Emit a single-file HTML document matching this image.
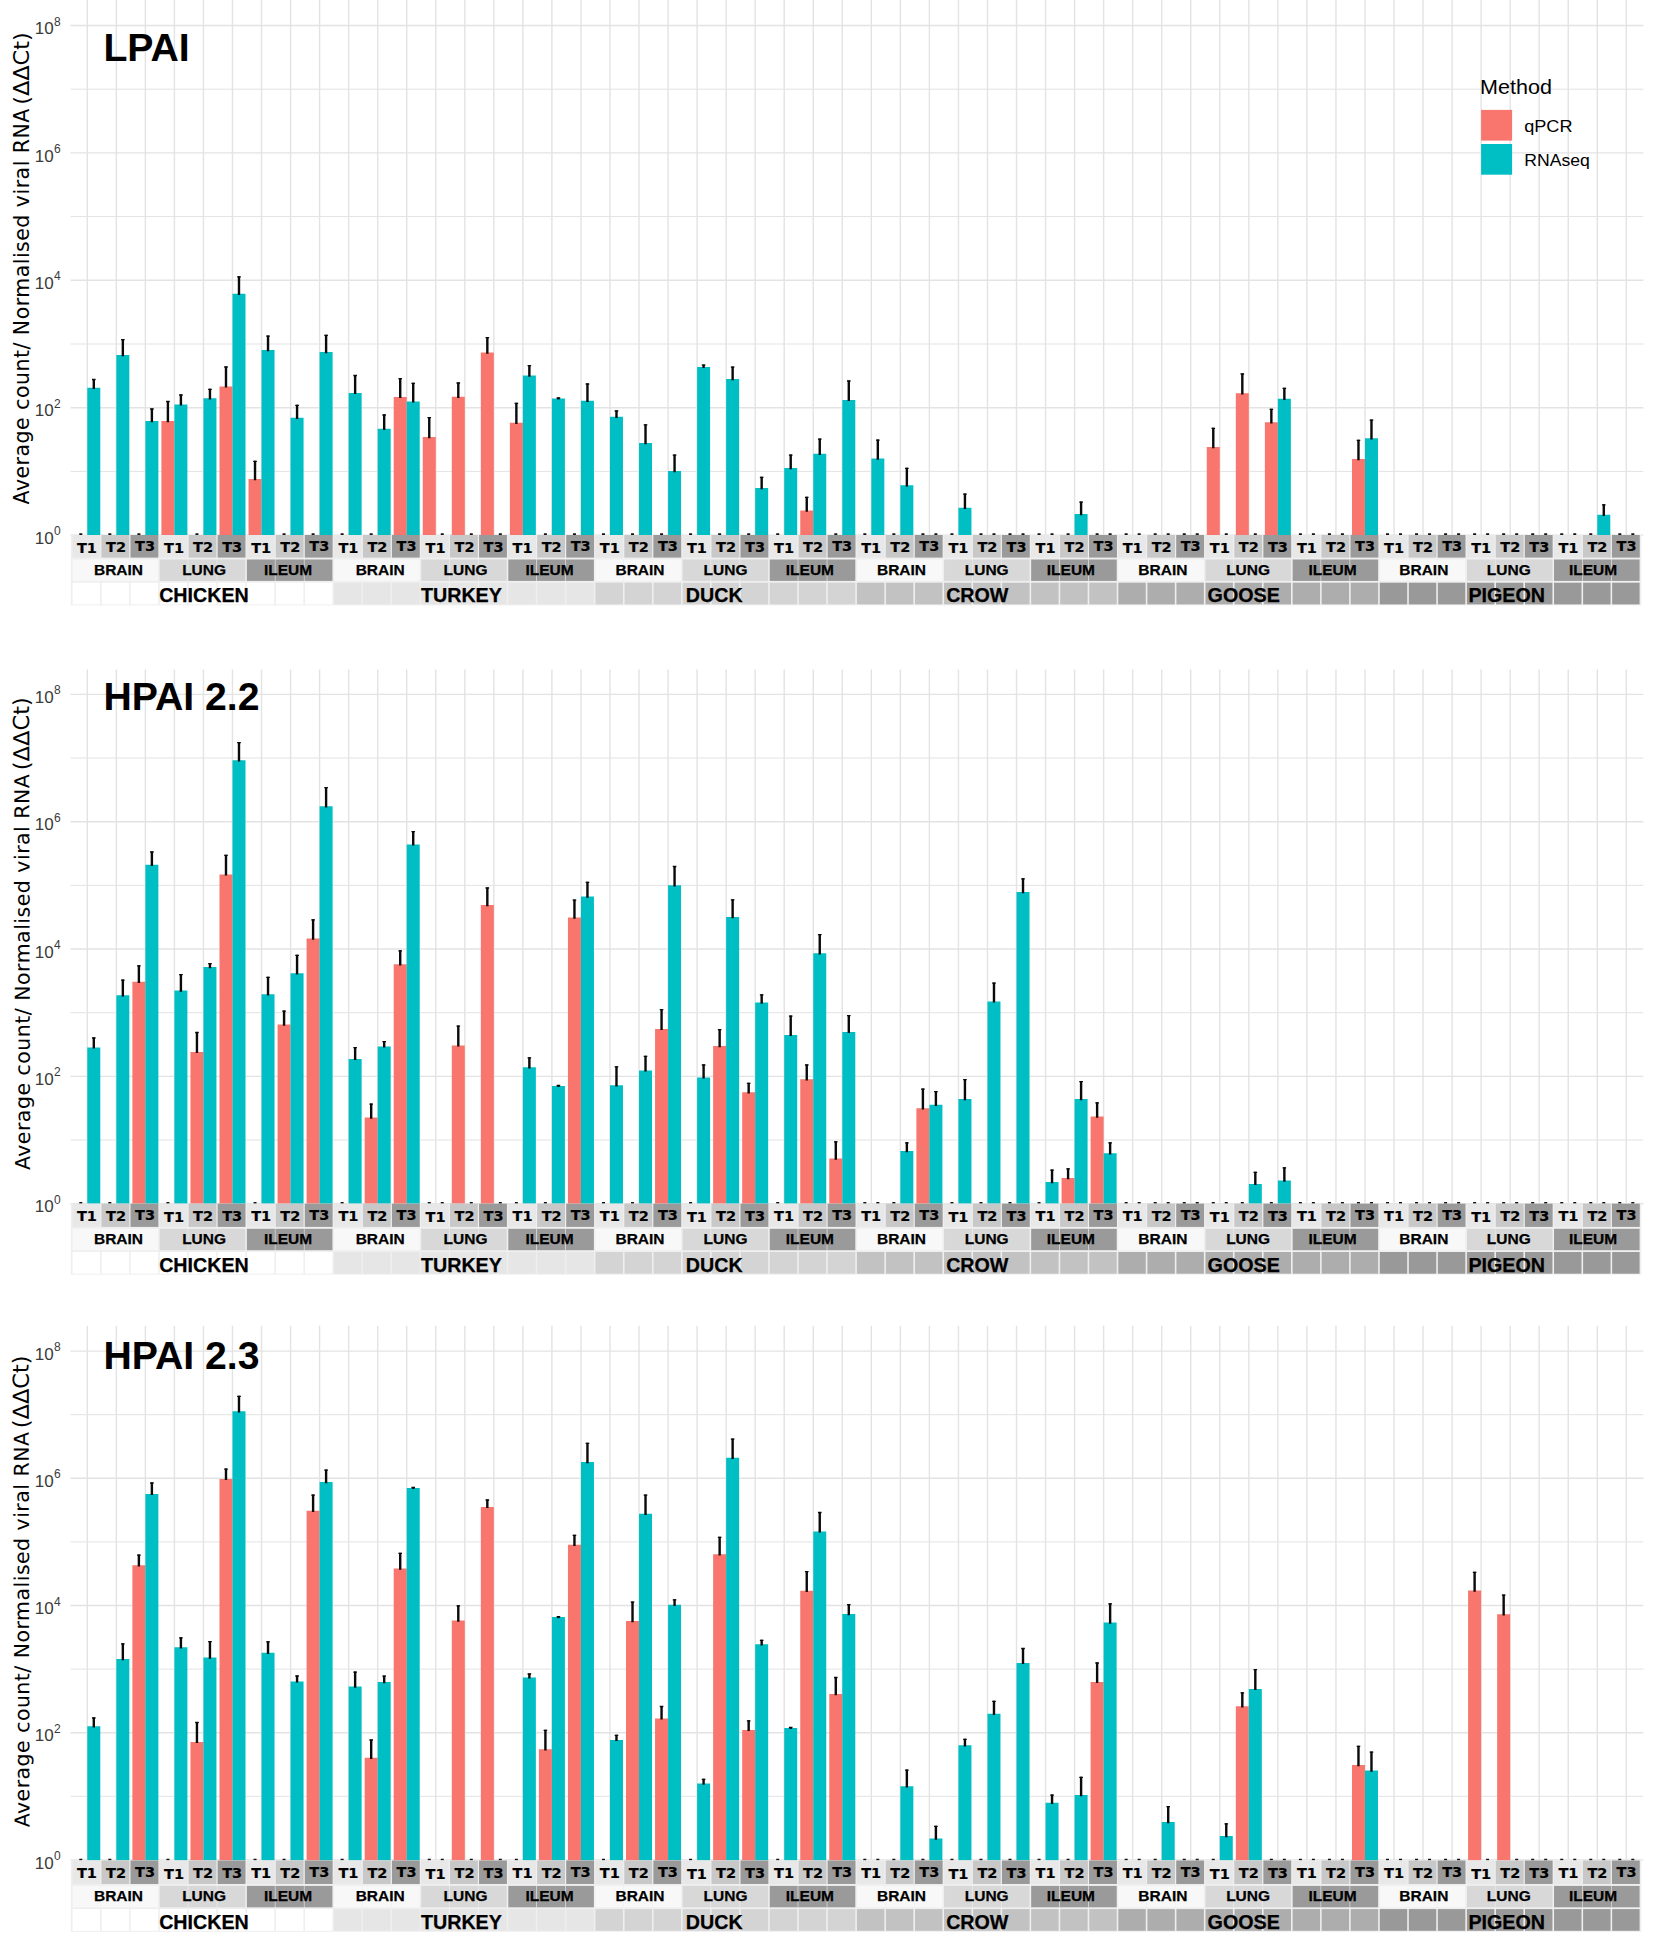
<!DOCTYPE html>
<html lang="en"><head><meta charset="utf-8"><title>Viral RNA: RNAseq vs qPCR</title>
<style>html,body{margin:0;padding:0;background:#fff}svg{display:block}</style></head>
<body>
<svg width="1654" height="1944" viewBox="0 0 1654 1944">
<rect width="1654" height="1944" fill="#fff"/>
<g id="panel0">
<path d="M70.5 471.40H1643.3M70.5 344.00H1643.3M70.5 216.60H1643.3M70.5 89.20H1643.3" stroke="#e3e3e3" stroke-width="1.0" fill="none"/>
<path d="M87.30 0.0V535.1M116.34 0.0V535.1M145.38 0.0V535.1M174.41 0.0V535.1M203.45 0.0V535.1M232.49 0.0V535.1M261.53 0.0V535.1M290.57 0.0V535.1M319.60 0.0V535.1M348.64 0.0V535.1M377.68 0.0V535.1M406.72 0.0V535.1M435.76 0.0V535.1M464.79 0.0V535.1M493.83 0.0V535.1M522.87 0.0V535.1M551.91 0.0V535.1M580.95 0.0V535.1M609.98 0.0V535.1M639.02 0.0V535.1M668.06 0.0V535.1M697.10 0.0V535.1M726.14 0.0V535.1M755.17 0.0V535.1M784.21 0.0V535.1M813.25 0.0V535.1M842.29 0.0V535.1M871.33 0.0V535.1M900.36 0.0V535.1M929.40 0.0V535.1M958.44 0.0V535.1M987.48 0.0V535.1M1016.52 0.0V535.1M1045.55 0.0V535.1M1074.59 0.0V535.1M1103.63 0.0V535.1M1132.67 0.0V535.1M1161.71 0.0V535.1M1190.74 0.0V535.1M1219.78 0.0V535.1M1248.82 0.0V535.1M1277.86 0.0V535.1M1306.90 0.0V535.1M1335.93 0.0V535.1M1364.97 0.0V535.1M1394.01 0.0V535.1M1423.05 0.0V535.1M1452.09 0.0V535.1M1481.12 0.0V535.1M1510.16 0.0V535.1M1539.20 0.0V535.1M1568.24 0.0V535.1M1597.28 0.0V535.1M1626.31 0.0V535.1M70.5 535.10H1643.3M70.5 407.70H1643.3M70.5 280.30H1643.3M70.5 152.90H1643.3M70.5 25.50H1643.3" stroke="#e3e3e3" stroke-width="1.4" fill="none"/>
<path d="M161.41 421.0h13.0V535.0h-13.0zM219.49 386.4h13.0V535.0h-13.0zM248.53 479.0h13.0V535.0h-13.0zM393.72 396.9h13.0V535.0h-13.0zM422.76 437.0h13.0V535.0h-13.0zM451.79 396.7h13.0V535.0h-13.0zM480.83 352.6h13.0V535.0h-13.0zM509.87 422.7h13.0V535.0h-13.0zM800.25 510.6h13.0V535.0h-13.0zM1206.78 447.0h13.0V535.0h-13.0zM1235.82 393.2h13.0V535.0h-13.0zM1264.86 422.2h13.0V535.0h-13.0zM1351.97 459.0h13.0V535.0h-13.0z" fill="#F8766D"/>
<path d="M87.30 387.7h13.0V535.0h-13.0zM116.34 355.1h13.0V535.0h-13.0zM145.38 421.0h13.0V535.0h-13.0zM174.41 404.4h13.0V535.0h-13.0zM203.45 398.2h13.0V535.0h-13.0zM232.49 293.8h13.0V535.0h-13.0zM261.53 350.1h13.0V535.0h-13.0zM290.57 417.7h13.0V535.0h-13.0zM319.60 352.1h13.0V535.0h-13.0zM348.64 392.9h13.0V535.0h-13.0zM377.68 428.7h13.0V535.0h-13.0zM406.72 401.4h13.0V535.0h-13.0zM522.87 375.6h13.0V535.0h-13.0zM551.91 398.4h13.0V535.0h-13.0zM580.95 400.7h13.0V535.0h-13.0zM609.98 416.7h13.0V535.0h-13.0zM639.02 443.0h13.0V535.0h-13.0zM668.06 471.0h13.0V535.0h-13.0zM697.10 366.9h13.0V535.0h-13.0zM726.14 379.1h13.0V535.0h-13.0zM755.17 488.0h13.0V535.0h-13.0zM784.21 468.0h13.0V535.0h-13.0zM813.25 453.7h13.0V535.0h-13.0zM842.29 399.9h13.0V535.0h-13.0zM871.33 458.5h13.0V535.0h-13.0zM900.36 485.3h13.0V535.0h-13.0zM958.44 507.8h13.0V535.0h-13.0zM1074.59 514.1h13.0V535.0h-13.0zM1277.86 398.7h13.0V535.0h-13.0zM1364.97 438.2h13.0V535.0h-13.0zM1597.28 514.8h13.0V535.0h-13.0z" fill="#00BFC4"/>
<path d="M93.80 388.9V378.9M122.84 356.3V339.1M151.88 422.2V408.4M167.91 422.2V400.9M180.91 405.6V394.4M209.95 399.4V388.7M225.99 387.6V366.4M238.99 295.0V276.3M255.03 480.2V460.8M268.03 351.3V335.6M297.07 418.9V404.7M326.10 353.3V334.8M355.14 394.1V374.9M384.18 429.9V414.4M400.22 398.1V378.1M413.22 402.6V382.7M429.26 438.2V417.0M458.29 397.9V382.4M487.33 353.8V337.1M516.37 423.9V402.7M529.37 376.8V365.1M558.41 399.6V397.4M587.45 401.9V383.4M616.48 417.9V410.4M645.52 444.2V424.2M674.56 472.2V454.5M703.60 368.1V364.6M732.64 380.3V366.6M761.67 489.2V476.8M790.71 469.2V454.5M806.75 511.8V496.8M819.75 454.9V438.5M848.79 401.1V380.4M877.83 459.7V439.5M906.86 486.5V467.8M964.94 509.0V493.5M1081.09 515.3V501.5M1213.28 448.2V427.7M1242.32 394.4V373.4M1271.36 423.4V408.7M1284.36 399.9V387.7M1358.47 460.2V439.7M1371.47 439.4V419.5M1603.78 516.0V504.3" stroke="#0a0a0a" stroke-width="2.4" fill="none"/>
<path d="M92.00 379.5h3.6M121.04 339.7h3.6M150.08 409.0h3.6M166.11 401.5h3.6M179.11 395.0h3.6M208.15 389.3h3.6M224.19 367.0h3.6M237.19 276.9h3.6M253.23 461.4h3.6M266.23 336.2h3.6M295.27 405.3h3.6M324.30 335.4h3.6M353.34 375.5h3.6M382.38 415.0h3.6M398.42 378.7h3.6M411.42 383.3h3.6M427.46 417.6h3.6M456.49 383.0h3.6M485.53 337.7h3.6M514.57 403.3h3.6M527.57 365.7h3.6M556.61 398.0h3.6M585.65 384.0h3.6M614.68 411.0h3.6M643.72 424.8h3.6M672.76 455.1h3.6M701.80 365.2h3.6M730.84 367.2h3.6M759.87 477.4h3.6M788.91 455.1h3.6M804.95 497.4h3.6M817.95 439.1h3.6M846.99 381.0h3.6M876.03 440.1h3.6M905.06 468.4h3.6M963.14 494.1h3.6M1079.29 502.1h3.6M1211.48 428.3h3.6M1240.52 374.0h3.6M1269.56 409.3h3.6M1282.56 388.3h3.6M1356.67 440.3h3.6M1369.67 420.1h3.6M1601.98 504.9h3.6" stroke="#0a0a0a" stroke-width="1.3" fill="none"/>
<path d="M79.30 534.1h3M108.34 534.1h3M137.38 534.1h3M195.45 534.1h3M282.57 534.1h3M311.60 534.1h3M340.64 534.1h3M369.68 534.1h3M440.76 534.1h3M469.79 534.1h3M498.83 534.1h3M543.91 534.1h3M572.95 534.1h3M601.98 534.1h3M631.02 534.1h3M660.06 534.1h3M689.10 534.1h3M718.14 534.1h3M747.17 534.1h3M776.21 534.1h3M834.29 534.1h3M863.33 534.1h3M892.36 534.1h3M921.40 534.1h3M934.40 534.1h3M950.44 534.1h3M979.48 534.1h3M992.48 534.1h3M1008.52 534.1h3M1021.52 534.1h3M1037.55 534.1h3M1050.55 534.1h3M1066.59 534.1h3M1095.63 534.1h3M1108.63 534.1h3M1124.67 534.1h3M1137.67 534.1h3M1153.71 534.1h3M1166.71 534.1h3M1182.74 534.1h3M1195.74 534.1h3M1224.78 534.1h3M1253.82 534.1h3M1298.90 534.1h3M1311.90 534.1h3M1327.93 534.1h3M1340.93 534.1h3M1386.01 534.1h3M1399.01 534.1h3M1415.05 534.1h3M1428.05 534.1h3M1444.09 534.1h3M1457.09 534.1h3M1473.12 534.1h3M1486.12 534.1h3M1502.16 534.1h3M1515.16 534.1h3M1531.20 534.1h3M1544.20 534.1h3M1560.24 534.1h3M1573.24 534.1h3M1589.28 534.1h3M1618.31 534.1h3M1631.31 534.1h3" stroke="#111" stroke-width="1.8" fill="none"/>
<rect x="70.80" y="535.0" width="1570.59" height="70.4" fill="#efefef"/>
<rect x="72.40" y="535.0" width="27.85" height="22.6" fill="#e8e8e8"/>
<rect x="72.60" y="559.5" width="27.95" height="21.4" fill="#f8f8f8"/>
<rect x="72.60" y="582.7" width="27.45" height="21.7" fill="#ffffff"/>
<rect x="101.45" y="535.0" width="27.85" height="22.6" fill="#c8c8c8"/>
<rect x="101.15" y="559.5" width="28.45" height="21.4" fill="#f8f8f8"/>
<rect x="101.65" y="582.7" width="27.45" height="21.7" fill="#ffffff"/>
<rect x="130.50" y="535.0" width="27.85" height="22.6" fill="#9a9a9a"/>
<rect x="130.20" y="559.5" width="27.95" height="21.4" fill="#f8f8f8"/>
<rect x="130.70" y="582.7" width="27.45" height="21.7" fill="#ffffff"/>
<rect x="159.54" y="535.0" width="27.85" height="22.6" fill="#e8e8e8"/>
<rect x="159.74" y="559.5" width="27.95" height="21.4" fill="#d8d8d8"/>
<rect x="159.74" y="582.7" width="27.45" height="21.7" fill="#ffffff"/>
<rect x="188.59" y="535.0" width="27.85" height="22.6" fill="#c8c8c8"/>
<rect x="188.29" y="559.5" width="28.45" height="21.4" fill="#d8d8d8"/>
<rect x="188.79" y="582.7" width="27.45" height="21.7" fill="#ffffff"/>
<rect x="217.64" y="535.0" width="27.85" height="22.6" fill="#9a9a9a"/>
<rect x="217.34" y="559.5" width="27.95" height="21.4" fill="#d8d8d8"/>
<rect x="217.84" y="582.7" width="27.45" height="21.7" fill="#ffffff"/>
<rect x="246.69" y="535.0" width="27.85" height="22.6" fill="#e8e8e8"/>
<rect x="246.89" y="559.5" width="27.95" height="21.4" fill="#9a9a9a"/>
<rect x="246.89" y="582.7" width="27.45" height="21.7" fill="#ffffff"/>
<rect x="275.74" y="535.0" width="27.85" height="22.6" fill="#c8c8c8"/>
<rect x="275.44" y="559.5" width="28.45" height="21.4" fill="#9a9a9a"/>
<rect x="275.94" y="582.7" width="27.45" height="21.7" fill="#ffffff"/>
<rect x="304.78" y="535.0" width="27.85" height="22.6" fill="#9a9a9a"/>
<rect x="304.48" y="559.5" width="27.95" height="21.4" fill="#9a9a9a"/>
<rect x="304.98" y="582.7" width="27.45" height="21.7" fill="#ffffff"/>
<rect x="333.83" y="535.0" width="27.85" height="22.6" fill="#e8e8e8"/>
<rect x="334.03" y="559.5" width="27.95" height="21.4" fill="#f8f8f8"/>
<rect x="334.03" y="582.7" width="27.45" height="21.7" fill="#e6e6e6"/>
<rect x="362.88" y="535.0" width="27.85" height="22.6" fill="#c8c8c8"/>
<rect x="362.58" y="559.5" width="28.45" height="21.4" fill="#f8f8f8"/>
<rect x="363.08" y="582.7" width="27.45" height="21.7" fill="#e6e6e6"/>
<rect x="391.93" y="535.0" width="27.85" height="22.6" fill="#9a9a9a"/>
<rect x="391.63" y="559.5" width="27.95" height="21.4" fill="#f8f8f8"/>
<rect x="392.13" y="582.7" width="27.45" height="21.7" fill="#e6e6e6"/>
<rect x="420.98" y="535.0" width="27.85" height="22.6" fill="#e8e8e8"/>
<rect x="421.18" y="559.5" width="27.95" height="21.4" fill="#d8d8d8"/>
<rect x="421.18" y="582.7" width="27.45" height="21.7" fill="#e6e6e6"/>
<rect x="450.02" y="535.0" width="27.85" height="22.6" fill="#c8c8c8"/>
<rect x="449.72" y="559.5" width="28.45" height="21.4" fill="#d8d8d8"/>
<rect x="450.22" y="582.7" width="27.45" height="21.7" fill="#e6e6e6"/>
<rect x="479.07" y="535.0" width="27.85" height="22.6" fill="#9a9a9a"/>
<rect x="478.77" y="559.5" width="27.95" height="21.4" fill="#d8d8d8"/>
<rect x="479.27" y="582.7" width="27.45" height="21.7" fill="#e6e6e6"/>
<rect x="508.12" y="535.0" width="27.85" height="22.6" fill="#e8e8e8"/>
<rect x="508.32" y="559.5" width="27.95" height="21.4" fill="#9a9a9a"/>
<rect x="508.32" y="582.7" width="27.45" height="21.7" fill="#e6e6e6"/>
<rect x="537.17" y="535.0" width="27.85" height="22.6" fill="#c8c8c8"/>
<rect x="536.87" y="559.5" width="28.45" height="21.4" fill="#9a9a9a"/>
<rect x="537.37" y="582.7" width="27.45" height="21.7" fill="#e6e6e6"/>
<rect x="566.22" y="535.0" width="27.85" height="22.6" fill="#9a9a9a"/>
<rect x="565.92" y="559.5" width="27.95" height="21.4" fill="#9a9a9a"/>
<rect x="566.42" y="582.7" width="27.45" height="21.7" fill="#e6e6e6"/>
<rect x="595.26" y="535.0" width="27.85" height="22.6" fill="#e8e8e8"/>
<rect x="595.46" y="559.5" width="27.95" height="21.4" fill="#f8f8f8"/>
<rect x="595.46" y="582.7" width="27.45" height="21.7" fill="#d4d4d4"/>
<rect x="624.31" y="535.0" width="27.85" height="22.6" fill="#c8c8c8"/>
<rect x="624.01" y="559.5" width="28.45" height="21.4" fill="#f8f8f8"/>
<rect x="624.51" y="582.7" width="27.45" height="21.7" fill="#d4d4d4"/>
<rect x="653.36" y="535.0" width="27.85" height="22.6" fill="#9a9a9a"/>
<rect x="653.06" y="559.5" width="27.95" height="21.4" fill="#f8f8f8"/>
<rect x="653.56" y="582.7" width="27.45" height="21.7" fill="#d4d4d4"/>
<rect x="682.41" y="535.0" width="27.85" height="22.6" fill="#e8e8e8"/>
<rect x="682.61" y="559.5" width="27.95" height="21.4" fill="#d8d8d8"/>
<rect x="682.61" y="582.7" width="27.45" height="21.7" fill="#d4d4d4"/>
<rect x="711.46" y="535.0" width="27.85" height="22.6" fill="#c8c8c8"/>
<rect x="711.16" y="559.5" width="28.45" height="21.4" fill="#d8d8d8"/>
<rect x="711.66" y="582.7" width="27.45" height="21.7" fill="#d4d4d4"/>
<rect x="740.50" y="535.0" width="27.85" height="22.6" fill="#9a9a9a"/>
<rect x="740.20" y="559.5" width="27.95" height="21.4" fill="#d8d8d8"/>
<rect x="740.70" y="582.7" width="27.45" height="21.7" fill="#d4d4d4"/>
<rect x="769.55" y="535.0" width="27.85" height="22.6" fill="#e8e8e8"/>
<rect x="769.75" y="559.5" width="27.95" height="21.4" fill="#9a9a9a"/>
<rect x="769.75" y="582.7" width="27.45" height="21.7" fill="#d4d4d4"/>
<rect x="798.60" y="535.0" width="27.85" height="22.6" fill="#c8c8c8"/>
<rect x="798.30" y="559.5" width="28.45" height="21.4" fill="#9a9a9a"/>
<rect x="798.80" y="582.7" width="27.45" height="21.7" fill="#d4d4d4"/>
<rect x="827.65" y="535.0" width="27.85" height="22.6" fill="#9a9a9a"/>
<rect x="827.35" y="559.5" width="27.95" height="21.4" fill="#9a9a9a"/>
<rect x="827.85" y="582.7" width="27.45" height="21.7" fill="#d4d4d4"/>
<rect x="856.70" y="535.0" width="27.85" height="22.6" fill="#e8e8e8"/>
<rect x="856.90" y="559.5" width="27.95" height="21.4" fill="#f8f8f8"/>
<rect x="856.90" y="582.7" width="27.45" height="21.7" fill="#c2c2c2"/>
<rect x="885.74" y="535.0" width="27.85" height="22.6" fill="#c8c8c8"/>
<rect x="885.44" y="559.5" width="28.45" height="21.4" fill="#f8f8f8"/>
<rect x="885.94" y="582.7" width="27.45" height="21.7" fill="#c2c2c2"/>
<rect x="914.79" y="535.0" width="27.85" height="22.6" fill="#9a9a9a"/>
<rect x="914.49" y="559.5" width="27.95" height="21.4" fill="#f8f8f8"/>
<rect x="914.99" y="582.7" width="27.45" height="21.7" fill="#c2c2c2"/>
<rect x="943.84" y="535.0" width="27.85" height="22.6" fill="#e8e8e8"/>
<rect x="944.04" y="559.5" width="27.95" height="21.4" fill="#d8d8d8"/>
<rect x="944.04" y="582.7" width="27.45" height="21.7" fill="#c2c2c2"/>
<rect x="972.89" y="535.0" width="27.85" height="22.6" fill="#c8c8c8"/>
<rect x="972.59" y="559.5" width="28.45" height="21.4" fill="#d8d8d8"/>
<rect x="973.09" y="582.7" width="27.45" height="21.7" fill="#c2c2c2"/>
<rect x="1001.94" y="535.0" width="27.85" height="22.6" fill="#9a9a9a"/>
<rect x="1001.64" y="559.5" width="27.95" height="21.4" fill="#d8d8d8"/>
<rect x="1002.14" y="582.7" width="27.45" height="21.7" fill="#c2c2c2"/>
<rect x="1030.98" y="535.0" width="27.85" height="22.6" fill="#e8e8e8"/>
<rect x="1031.18" y="559.5" width="27.95" height="21.4" fill="#9a9a9a"/>
<rect x="1031.18" y="582.7" width="27.45" height="21.7" fill="#c2c2c2"/>
<rect x="1060.03" y="535.0" width="27.85" height="22.6" fill="#c8c8c8"/>
<rect x="1059.73" y="559.5" width="28.45" height="21.4" fill="#9a9a9a"/>
<rect x="1060.23" y="582.7" width="27.45" height="21.7" fill="#c2c2c2"/>
<rect x="1089.08" y="535.0" width="27.85" height="22.6" fill="#9a9a9a"/>
<rect x="1088.78" y="559.5" width="27.95" height="21.4" fill="#9a9a9a"/>
<rect x="1089.28" y="582.7" width="27.45" height="21.7" fill="#c2c2c2"/>
<rect x="1118.13" y="535.0" width="27.85" height="22.6" fill="#e8e8e8"/>
<rect x="1118.33" y="559.5" width="27.95" height="21.4" fill="#f8f8f8"/>
<rect x="1118.33" y="582.7" width="27.45" height="21.7" fill="#adadad"/>
<rect x="1147.18" y="535.0" width="27.85" height="22.6" fill="#c8c8c8"/>
<rect x="1146.88" y="559.5" width="28.45" height="21.4" fill="#f8f8f8"/>
<rect x="1147.38" y="582.7" width="27.45" height="21.7" fill="#adadad"/>
<rect x="1176.22" y="535.0" width="27.85" height="22.6" fill="#9a9a9a"/>
<rect x="1175.92" y="559.5" width="27.95" height="21.4" fill="#f8f8f8"/>
<rect x="1176.42" y="582.7" width="27.45" height="21.7" fill="#adadad"/>
<rect x="1205.27" y="535.0" width="27.85" height="22.6" fill="#e8e8e8"/>
<rect x="1205.47" y="559.5" width="27.95" height="21.4" fill="#d8d8d8"/>
<rect x="1205.47" y="582.7" width="27.45" height="21.7" fill="#adadad"/>
<rect x="1234.32" y="535.0" width="27.85" height="22.6" fill="#c8c8c8"/>
<rect x="1234.02" y="559.5" width="28.45" height="21.4" fill="#d8d8d8"/>
<rect x="1234.52" y="582.7" width="27.45" height="21.7" fill="#adadad"/>
<rect x="1263.37" y="535.0" width="27.85" height="22.6" fill="#9a9a9a"/>
<rect x="1263.07" y="559.5" width="27.95" height="21.4" fill="#d8d8d8"/>
<rect x="1263.57" y="582.7" width="27.45" height="21.7" fill="#adadad"/>
<rect x="1292.42" y="535.0" width="27.85" height="22.6" fill="#e8e8e8"/>
<rect x="1292.62" y="559.5" width="27.95" height="21.4" fill="#9a9a9a"/>
<rect x="1292.62" y="582.7" width="27.45" height="21.7" fill="#adadad"/>
<rect x="1321.46" y="535.0" width="27.85" height="22.6" fill="#c8c8c8"/>
<rect x="1321.16" y="559.5" width="28.45" height="21.4" fill="#9a9a9a"/>
<rect x="1321.66" y="582.7" width="27.45" height="21.7" fill="#adadad"/>
<rect x="1350.51" y="535.0" width="27.85" height="22.6" fill="#9a9a9a"/>
<rect x="1350.21" y="559.5" width="27.95" height="21.4" fill="#9a9a9a"/>
<rect x="1350.71" y="582.7" width="27.45" height="21.7" fill="#adadad"/>
<rect x="1379.56" y="535.0" width="27.85" height="22.6" fill="#e8e8e8"/>
<rect x="1379.76" y="559.5" width="27.95" height="21.4" fill="#f8f8f8"/>
<rect x="1379.76" y="582.7" width="27.45" height="21.7" fill="#999999"/>
<rect x="1408.61" y="535.0" width="27.85" height="22.6" fill="#c8c8c8"/>
<rect x="1408.31" y="559.5" width="28.45" height="21.4" fill="#f8f8f8"/>
<rect x="1408.81" y="582.7" width="27.45" height="21.7" fill="#999999"/>
<rect x="1437.66" y="535.0" width="27.85" height="22.6" fill="#9a9a9a"/>
<rect x="1437.36" y="559.5" width="27.95" height="21.4" fill="#f8f8f8"/>
<rect x="1437.86" y="582.7" width="27.45" height="21.7" fill="#999999"/>
<rect x="1466.70" y="535.0" width="27.85" height="22.6" fill="#e8e8e8"/>
<rect x="1466.90" y="559.5" width="27.95" height="21.4" fill="#d8d8d8"/>
<rect x="1466.90" y="582.7" width="27.45" height="21.7" fill="#999999"/>
<rect x="1495.75" y="535.0" width="27.85" height="22.6" fill="#c8c8c8"/>
<rect x="1495.45" y="559.5" width="28.45" height="21.4" fill="#d8d8d8"/>
<rect x="1495.95" y="582.7" width="27.45" height="21.7" fill="#999999"/>
<rect x="1524.80" y="535.0" width="27.85" height="22.6" fill="#9a9a9a"/>
<rect x="1524.50" y="559.5" width="27.95" height="21.4" fill="#d8d8d8"/>
<rect x="1525.00" y="582.7" width="27.45" height="21.7" fill="#999999"/>
<rect x="1553.85" y="535.0" width="27.85" height="22.6" fill="#e8e8e8"/>
<rect x="1554.05" y="559.5" width="27.95" height="21.4" fill="#9a9a9a"/>
<rect x="1554.05" y="582.7" width="27.45" height="21.7" fill="#999999"/>
<rect x="1582.90" y="535.0" width="27.85" height="22.6" fill="#c8c8c8"/>
<rect x="1582.60" y="559.5" width="28.45" height="21.4" fill="#9a9a9a"/>
<rect x="1583.10" y="582.7" width="27.45" height="21.7" fill="#999999"/>
<rect x="1611.94" y="535.0" width="27.85" height="22.6" fill="#9a9a9a"/>
<rect x="1611.64" y="559.5" width="27.95" height="21.4" fill="#9a9a9a"/>
<rect x="1612.14" y="582.7" width="27.45" height="21.7" fill="#999999"/>
<text x="86.9" y="552.5" text-anchor="middle" font-family="DejaVu Sans, Verdana, sans-serif" font-weight="bold" font-size="14.5" fill="#000" stroke="#000" stroke-width="0.2">T1</text>
<text x="116.0" y="551.6" text-anchor="middle" font-family="DejaVu Sans, Verdana, sans-serif" font-weight="bold" font-size="14.5" fill="#000" stroke="#000" stroke-width="0.2">T2</text>
<text x="145.0" y="551.2" text-anchor="middle" font-family="DejaVu Sans, Verdana, sans-serif" font-weight="bold" font-size="14.5" fill="#000" stroke="#000" stroke-width="0.2">T3</text>
<text x="174.1" y="553.1" text-anchor="middle" font-family="DejaVu Sans, Verdana, sans-serif" font-weight="bold" font-size="14.5" fill="#000" stroke="#000" stroke-width="0.2">T1</text>
<text x="203.1" y="552.1" text-anchor="middle" font-family="DejaVu Sans, Verdana, sans-serif" font-weight="bold" font-size="14.5" fill="#000" stroke="#000" stroke-width="0.2">T2</text>
<text x="232.2" y="551.6" text-anchor="middle" font-family="DejaVu Sans, Verdana, sans-serif" font-weight="bold" font-size="14.5" fill="#000" stroke="#000" stroke-width="0.2">T3</text>
<text x="261.2" y="552.5" text-anchor="middle" font-family="DejaVu Sans, Verdana, sans-serif" font-weight="bold" font-size="14.5" fill="#000" stroke="#000" stroke-width="0.2">T1</text>
<text x="290.3" y="551.6" text-anchor="middle" font-family="DejaVu Sans, Verdana, sans-serif" font-weight="bold" font-size="14.5" fill="#000" stroke="#000" stroke-width="0.2">T2</text>
<text x="319.3" y="551.2" text-anchor="middle" font-family="DejaVu Sans, Verdana, sans-serif" font-weight="bold" font-size="14.5" fill="#000" stroke="#000" stroke-width="0.2">T3</text>
<text x="348.4" y="552.5" text-anchor="middle" font-family="DejaVu Sans, Verdana, sans-serif" font-weight="bold" font-size="14.5" fill="#000" stroke="#000" stroke-width="0.2">T1</text>
<text x="377.4" y="551.6" text-anchor="middle" font-family="DejaVu Sans, Verdana, sans-serif" font-weight="bold" font-size="14.5" fill="#000" stroke="#000" stroke-width="0.2">T2</text>
<text x="406.5" y="551.2" text-anchor="middle" font-family="DejaVu Sans, Verdana, sans-serif" font-weight="bold" font-size="14.5" fill="#000" stroke="#000" stroke-width="0.2">T3</text>
<text x="435.5" y="553.1" text-anchor="middle" font-family="DejaVu Sans, Verdana, sans-serif" font-weight="bold" font-size="14.5" fill="#000" stroke="#000" stroke-width="0.2">T1</text>
<text x="464.5" y="552.1" text-anchor="middle" font-family="DejaVu Sans, Verdana, sans-serif" font-weight="bold" font-size="14.5" fill="#000" stroke="#000" stroke-width="0.2">T2</text>
<text x="493.6" y="551.6" text-anchor="middle" font-family="DejaVu Sans, Verdana, sans-serif" font-weight="bold" font-size="14.5" fill="#000" stroke="#000" stroke-width="0.2">T3</text>
<text x="522.6" y="552.5" text-anchor="middle" font-family="DejaVu Sans, Verdana, sans-serif" font-weight="bold" font-size="14.5" fill="#000" stroke="#000" stroke-width="0.2">T1</text>
<text x="551.7" y="551.6" text-anchor="middle" font-family="DejaVu Sans, Verdana, sans-serif" font-weight="bold" font-size="14.5" fill="#000" stroke="#000" stroke-width="0.2">T2</text>
<text x="580.7" y="551.2" text-anchor="middle" font-family="DejaVu Sans, Verdana, sans-serif" font-weight="bold" font-size="14.5" fill="#000" stroke="#000" stroke-width="0.2">T3</text>
<text x="609.8" y="552.5" text-anchor="middle" font-family="DejaVu Sans, Verdana, sans-serif" font-weight="bold" font-size="14.5" fill="#000" stroke="#000" stroke-width="0.2">T1</text>
<text x="638.8" y="551.6" text-anchor="middle" font-family="DejaVu Sans, Verdana, sans-serif" font-weight="bold" font-size="14.5" fill="#000" stroke="#000" stroke-width="0.2">T2</text>
<text x="667.9" y="551.2" text-anchor="middle" font-family="DejaVu Sans, Verdana, sans-serif" font-weight="bold" font-size="14.5" fill="#000" stroke="#000" stroke-width="0.2">T3</text>
<text x="696.9" y="553.1" text-anchor="middle" font-family="DejaVu Sans, Verdana, sans-serif" font-weight="bold" font-size="14.5" fill="#000" stroke="#000" stroke-width="0.2">T1</text>
<text x="726.0" y="552.1" text-anchor="middle" font-family="DejaVu Sans, Verdana, sans-serif" font-weight="bold" font-size="14.5" fill="#000" stroke="#000" stroke-width="0.2">T2</text>
<text x="755.0" y="551.6" text-anchor="middle" font-family="DejaVu Sans, Verdana, sans-serif" font-weight="bold" font-size="14.5" fill="#000" stroke="#000" stroke-width="0.2">T3</text>
<text x="784.1" y="552.5" text-anchor="middle" font-family="DejaVu Sans, Verdana, sans-serif" font-weight="bold" font-size="14.5" fill="#000" stroke="#000" stroke-width="0.2">T1</text>
<text x="813.1" y="551.6" text-anchor="middle" font-family="DejaVu Sans, Verdana, sans-serif" font-weight="bold" font-size="14.5" fill="#000" stroke="#000" stroke-width="0.2">T2</text>
<text x="842.2" y="551.2" text-anchor="middle" font-family="DejaVu Sans, Verdana, sans-serif" font-weight="bold" font-size="14.5" fill="#000" stroke="#000" stroke-width="0.2">T3</text>
<text x="871.2" y="552.5" text-anchor="middle" font-family="DejaVu Sans, Verdana, sans-serif" font-weight="bold" font-size="14.5" fill="#000" stroke="#000" stroke-width="0.2">T1</text>
<text x="900.3" y="551.6" text-anchor="middle" font-family="DejaVu Sans, Verdana, sans-serif" font-weight="bold" font-size="14.5" fill="#000" stroke="#000" stroke-width="0.2">T2</text>
<text x="929.3" y="551.2" text-anchor="middle" font-family="DejaVu Sans, Verdana, sans-serif" font-weight="bold" font-size="14.5" fill="#000" stroke="#000" stroke-width="0.2">T3</text>
<text x="958.4" y="553.1" text-anchor="middle" font-family="DejaVu Sans, Verdana, sans-serif" font-weight="bold" font-size="14.5" fill="#000" stroke="#000" stroke-width="0.2">T1</text>
<text x="987.4" y="552.1" text-anchor="middle" font-family="DejaVu Sans, Verdana, sans-serif" font-weight="bold" font-size="14.5" fill="#000" stroke="#000" stroke-width="0.2">T2</text>
<text x="1016.5" y="551.6" text-anchor="middle" font-family="DejaVu Sans, Verdana, sans-serif" font-weight="bold" font-size="14.5" fill="#000" stroke="#000" stroke-width="0.2">T3</text>
<text x="1045.5" y="552.5" text-anchor="middle" font-family="DejaVu Sans, Verdana, sans-serif" font-weight="bold" font-size="14.5" fill="#000" stroke="#000" stroke-width="0.2">T1</text>
<text x="1074.6" y="551.6" text-anchor="middle" font-family="DejaVu Sans, Verdana, sans-serif" font-weight="bold" font-size="14.5" fill="#000" stroke="#000" stroke-width="0.2">T2</text>
<text x="1103.6" y="551.2" text-anchor="middle" font-family="DejaVu Sans, Verdana, sans-serif" font-weight="bold" font-size="14.5" fill="#000" stroke="#000" stroke-width="0.2">T3</text>
<text x="1132.7" y="552.5" text-anchor="middle" font-family="DejaVu Sans, Verdana, sans-serif" font-weight="bold" font-size="14.5" fill="#000" stroke="#000" stroke-width="0.2">T1</text>
<text x="1161.7" y="551.6" text-anchor="middle" font-family="DejaVu Sans, Verdana, sans-serif" font-weight="bold" font-size="14.5" fill="#000" stroke="#000" stroke-width="0.2">T2</text>
<text x="1190.7" y="551.2" text-anchor="middle" font-family="DejaVu Sans, Verdana, sans-serif" font-weight="bold" font-size="14.5" fill="#000" stroke="#000" stroke-width="0.2">T3</text>
<text x="1219.8" y="553.1" text-anchor="middle" font-family="DejaVu Sans, Verdana, sans-serif" font-weight="bold" font-size="14.5" fill="#000" stroke="#000" stroke-width="0.2">T1</text>
<text x="1248.8" y="552.1" text-anchor="middle" font-family="DejaVu Sans, Verdana, sans-serif" font-weight="bold" font-size="14.5" fill="#000" stroke="#000" stroke-width="0.2">T2</text>
<text x="1277.9" y="551.6" text-anchor="middle" font-family="DejaVu Sans, Verdana, sans-serif" font-weight="bold" font-size="14.5" fill="#000" stroke="#000" stroke-width="0.2">T3</text>
<text x="1306.9" y="552.5" text-anchor="middle" font-family="DejaVu Sans, Verdana, sans-serif" font-weight="bold" font-size="14.5" fill="#000" stroke="#000" stroke-width="0.2">T1</text>
<text x="1336.0" y="551.6" text-anchor="middle" font-family="DejaVu Sans, Verdana, sans-serif" font-weight="bold" font-size="14.5" fill="#000" stroke="#000" stroke-width="0.2">T2</text>
<text x="1365.0" y="551.2" text-anchor="middle" font-family="DejaVu Sans, Verdana, sans-serif" font-weight="bold" font-size="14.5" fill="#000" stroke="#000" stroke-width="0.2">T3</text>
<text x="1394.1" y="552.5" text-anchor="middle" font-family="DejaVu Sans, Verdana, sans-serif" font-weight="bold" font-size="14.5" fill="#000" stroke="#000" stroke-width="0.2">T1</text>
<text x="1423.1" y="551.6" text-anchor="middle" font-family="DejaVu Sans, Verdana, sans-serif" font-weight="bold" font-size="14.5" fill="#000" stroke="#000" stroke-width="0.2">T2</text>
<text x="1452.2" y="551.2" text-anchor="middle" font-family="DejaVu Sans, Verdana, sans-serif" font-weight="bold" font-size="14.5" fill="#000" stroke="#000" stroke-width="0.2">T3</text>
<text x="1481.2" y="553.1" text-anchor="middle" font-family="DejaVu Sans, Verdana, sans-serif" font-weight="bold" font-size="14.5" fill="#000" stroke="#000" stroke-width="0.2">T1</text>
<text x="1510.3" y="552.1" text-anchor="middle" font-family="DejaVu Sans, Verdana, sans-serif" font-weight="bold" font-size="14.5" fill="#000" stroke="#000" stroke-width="0.2">T2</text>
<text x="1539.3" y="551.6" text-anchor="middle" font-family="DejaVu Sans, Verdana, sans-serif" font-weight="bold" font-size="14.5" fill="#000" stroke="#000" stroke-width="0.2">T3</text>
<text x="1568.4" y="552.5" text-anchor="middle" font-family="DejaVu Sans, Verdana, sans-serif" font-weight="bold" font-size="14.5" fill="#000" stroke="#000" stroke-width="0.2">T1</text>
<text x="1597.4" y="551.6" text-anchor="middle" font-family="DejaVu Sans, Verdana, sans-serif" font-weight="bold" font-size="14.5" fill="#000" stroke="#000" stroke-width="0.2">T2</text>
<text x="1626.5" y="551.2" text-anchor="middle" font-family="DejaVu Sans, Verdana, sans-serif" font-weight="bold" font-size="14.5" fill="#000" stroke="#000" stroke-width="0.2">T3</text>
<text x="118.5" y="574.8" text-anchor="middle" font-family="Liberation Sans, Arial, Helvetica, sans-serif" font-weight="bold" font-size="15.5" fill="#000" stroke="#000" stroke-width="0.25">BRAIN</text>
<text x="204.1" y="574.8" text-anchor="middle" font-family="Liberation Sans, Arial, Helvetica, sans-serif" font-weight="bold" font-size="15.5" fill="#000" stroke="#000" stroke-width="0.25">LUNG</text>
<text x="288.0" y="574.8" text-anchor="middle" font-family="Liberation Sans, Arial, Helvetica, sans-serif" font-weight="bold" font-size="15.5" fill="#000" stroke="#000" stroke-width="0.25">ILEUM</text>
<text x="204.0" y="602.2" text-anchor="middle" font-family="Liberation Sans, Arial, Helvetica, sans-serif" font-weight="bold" font-size="19.7" fill="#000" stroke="#000" stroke-width="0.25">CHICKEN</text>
<text x="380.2" y="574.8" text-anchor="middle" font-family="Liberation Sans, Arial, Helvetica, sans-serif" font-weight="bold" font-size="15.5" fill="#000" stroke="#000" stroke-width="0.25">BRAIN</text>
<text x="465.5" y="574.8" text-anchor="middle" font-family="Liberation Sans, Arial, Helvetica, sans-serif" font-weight="bold" font-size="15.5" fill="#000" stroke="#000" stroke-width="0.25">LUNG</text>
<text x="549.5" y="574.8" text-anchor="middle" font-family="Liberation Sans, Arial, Helvetica, sans-serif" font-weight="bold" font-size="15.5" fill="#000" stroke="#000" stroke-width="0.25">ILEUM</text>
<text x="461.4" y="602.2" text-anchor="middle" font-family="Liberation Sans, Arial, Helvetica, sans-serif" font-weight="bold" font-size="19.7" fill="#000" stroke="#000" stroke-width="0.25">TURKEY</text>
<text x="640.0" y="574.8" text-anchor="middle" font-family="Liberation Sans, Arial, Helvetica, sans-serif" font-weight="bold" font-size="15.5" fill="#000" stroke="#000" stroke-width="0.25">BRAIN</text>
<text x="725.5" y="574.8" text-anchor="middle" font-family="Liberation Sans, Arial, Helvetica, sans-serif" font-weight="bold" font-size="15.5" fill="#000" stroke="#000" stroke-width="0.25">LUNG</text>
<text x="809.9" y="574.8" text-anchor="middle" font-family="Liberation Sans, Arial, Helvetica, sans-serif" font-weight="bold" font-size="15.5" fill="#000" stroke="#000" stroke-width="0.25">ILEUM</text>
<text x="714.2" y="602.2" text-anchor="middle" font-family="Liberation Sans, Arial, Helvetica, sans-serif" font-weight="bold" font-size="19.7" fill="#000" stroke="#000" stroke-width="0.25">DUCK</text>
<text x="901.5" y="574.8" text-anchor="middle" font-family="Liberation Sans, Arial, Helvetica, sans-serif" font-weight="bold" font-size="15.5" fill="#000" stroke="#000" stroke-width="0.25">BRAIN</text>
<text x="986.7" y="574.8" text-anchor="middle" font-family="Liberation Sans, Arial, Helvetica, sans-serif" font-weight="bold" font-size="15.5" fill="#000" stroke="#000" stroke-width="0.25">LUNG</text>
<text x="1070.9" y="574.8" text-anchor="middle" font-family="Liberation Sans, Arial, Helvetica, sans-serif" font-weight="bold" font-size="15.5" fill="#000" stroke="#000" stroke-width="0.25">ILEUM</text>
<text x="977.3" y="602.2" text-anchor="middle" font-family="Liberation Sans, Arial, Helvetica, sans-serif" font-weight="bold" font-size="19.7" fill="#000" stroke="#000" stroke-width="0.25">CROW</text>
<text x="1162.9" y="574.8" text-anchor="middle" font-family="Liberation Sans, Arial, Helvetica, sans-serif" font-weight="bold" font-size="15.5" fill="#000" stroke="#000" stroke-width="0.25">BRAIN</text>
<text x="1248.1" y="574.8" text-anchor="middle" font-family="Liberation Sans, Arial, Helvetica, sans-serif" font-weight="bold" font-size="15.5" fill="#000" stroke="#000" stroke-width="0.25">LUNG</text>
<text x="1332.5" y="574.8" text-anchor="middle" font-family="Liberation Sans, Arial, Helvetica, sans-serif" font-weight="bold" font-size="15.5" fill="#000" stroke="#000" stroke-width="0.25">ILEUM</text>
<text x="1243.7" y="602.2" text-anchor="middle" font-family="Liberation Sans, Arial, Helvetica, sans-serif" font-weight="bold" font-size="19.7" fill="#000" stroke="#000" stroke-width="0.25">GOOSE</text>
<text x="1423.8" y="574.8" text-anchor="middle" font-family="Liberation Sans, Arial, Helvetica, sans-serif" font-weight="bold" font-size="15.5" fill="#000" stroke="#000" stroke-width="0.25">BRAIN</text>
<text x="1508.8" y="574.8" text-anchor="middle" font-family="Liberation Sans, Arial, Helvetica, sans-serif" font-weight="bold" font-size="15.5" fill="#000" stroke="#000" stroke-width="0.25">LUNG</text>
<text x="1593.1" y="574.8" text-anchor="middle" font-family="Liberation Sans, Arial, Helvetica, sans-serif" font-weight="bold" font-size="15.5" fill="#000" stroke="#000" stroke-width="0.25">ILEUM</text>
<text x="1506.7" y="602.2" text-anchor="middle" font-family="Liberation Sans, Arial, Helvetica, sans-serif" font-weight="bold" font-size="19.7" fill="#000" stroke="#000" stroke-width="0.25">PIGEON</text>
<text x="53.6" y="543.8" text-anchor="end" font-family="Liberation Sans, Arial, Helvetica, sans-serif" font-size="17" fill="#3a3a3a">10</text>
<text x="53.9" y="535.1" font-family="Liberation Sans, Arial, Helvetica, sans-serif" font-size="12" fill="#3a3a3a">0</text>
<text x="53.6" y="416.4" text-anchor="end" font-family="Liberation Sans, Arial, Helvetica, sans-serif" font-size="17" fill="#3a3a3a">10</text>
<text x="53.9" y="407.7" font-family="Liberation Sans, Arial, Helvetica, sans-serif" font-size="12" fill="#3a3a3a">2</text>
<text x="53.6" y="289.0" text-anchor="end" font-family="Liberation Sans, Arial, Helvetica, sans-serif" font-size="17" fill="#3a3a3a">10</text>
<text x="53.9" y="280.3" font-family="Liberation Sans, Arial, Helvetica, sans-serif" font-size="12" fill="#3a3a3a">4</text>
<text x="53.6" y="161.6" text-anchor="end" font-family="Liberation Sans, Arial, Helvetica, sans-serif" font-size="17" fill="#3a3a3a">10</text>
<text x="53.9" y="152.9" font-family="Liberation Sans, Arial, Helvetica, sans-serif" font-size="12" fill="#3a3a3a">6</text>
<text x="53.6" y="34.2" text-anchor="end" font-family="Liberation Sans, Arial, Helvetica, sans-serif" font-size="17" fill="#3a3a3a">10</text>
<text x="53.9" y="25.5" font-family="Liberation Sans, Arial, Helvetica, sans-serif" font-size="12" fill="#3a3a3a">8</text>
<text transform="translate(29.0 504.4) rotate(-90)" font-family="DejaVu Sans, Verdana, sans-serif" font-size="20.5" textLength="395.8" lengthAdjust="spacing" fill="#000">Average count/ Normalised viral RNA</text>
<text transform="translate(29.0 104.8) rotate(-90)" font-family="DejaVu Sans, Verdana, sans-serif" font-size="22" textLength="72.5" lengthAdjust="spacingAndGlyphs" fill="#000">(ΔΔCt)</text>
<text x="103.4" y="61.2" font-family="Liberation Sans, Arial, Helvetica, sans-serif" font-weight="bold" font-size="39.2" fill="#000">LPAI</text>
</g>
<g id="panel1">
<path d="M70.5 1140.03H1643.3M70.5 1012.69H1643.3M70.5 885.35H1643.3M70.5 758.01H1643.3" stroke="#e3e3e3" stroke-width="1.0" fill="none"/>
<path d="M87.30 669.6V1203.7M116.34 669.6V1203.7M145.38 669.6V1203.7M174.41 669.6V1203.7M203.45 669.6V1203.7M232.49 669.6V1203.7M261.53 669.6V1203.7M290.57 669.6V1203.7M319.60 669.6V1203.7M348.64 669.6V1203.7M377.68 669.6V1203.7M406.72 669.6V1203.7M435.76 669.6V1203.7M464.79 669.6V1203.7M493.83 669.6V1203.7M522.87 669.6V1203.7M551.91 669.6V1203.7M580.95 669.6V1203.7M609.98 669.6V1203.7M639.02 669.6V1203.7M668.06 669.6V1203.7M697.10 669.6V1203.7M726.14 669.6V1203.7M755.17 669.6V1203.7M784.21 669.6V1203.7M813.25 669.6V1203.7M842.29 669.6V1203.7M871.33 669.6V1203.7M900.36 669.6V1203.7M929.40 669.6V1203.7M958.44 669.6V1203.7M987.48 669.6V1203.7M1016.52 669.6V1203.7M1045.55 669.6V1203.7M1074.59 669.6V1203.7M1103.63 669.6V1203.7M1132.67 669.6V1203.7M1161.71 669.6V1203.7M1190.74 669.6V1203.7M1219.78 669.6V1203.7M1248.82 669.6V1203.7M1277.86 669.6V1203.7M1306.90 669.6V1203.7M1335.93 669.6V1203.7M1364.97 669.6V1203.7M1394.01 669.6V1203.7M1423.05 669.6V1203.7M1452.09 669.6V1203.7M1481.12 669.6V1203.7M1510.16 669.6V1203.7M1539.20 669.6V1203.7M1568.24 669.6V1203.7M1597.28 669.6V1203.7M1626.31 669.6V1203.7M70.5 1203.70H1643.3M70.5 1076.36H1643.3M70.5 949.02H1643.3M70.5 821.68H1643.3M70.5 694.34H1643.3" stroke="#e3e3e3" stroke-width="1.4" fill="none"/>
<path d="M132.38 981.8h13.0V1203.7h-13.0zM190.45 1051.9h13.0V1203.7h-13.0zM219.49 874.4h13.0V1203.7h-13.0zM277.57 1024.6h13.0V1203.7h-13.0zM306.60 938.5h13.0V1203.7h-13.0zM364.68 1117.5h13.0V1203.7h-13.0zM393.72 964.3h13.0V1203.7h-13.0zM451.79 1045.4h13.0V1203.7h-13.0zM480.83 905.0h13.0V1203.7h-13.0zM567.95 917.5h13.0V1203.7h-13.0zM655.06 1028.9h13.0V1203.7h-13.0zM713.14 1046.1h13.0V1203.7h-13.0zM742.17 1092.2h13.0V1203.7h-13.0zM800.25 1079.2h13.0V1203.7h-13.0zM829.29 1158.5h13.0V1203.7h-13.0zM916.40 1108.3h13.0V1203.7h-13.0zM1061.59 1178.1h13.0V1203.7h-13.0zM1090.63 1116.5h13.0V1203.7h-13.0z" fill="#F8766D"/>
<path d="M87.30 1047.4h13.0V1203.7h-13.0zM116.34 995.3h13.0V1203.7h-13.0zM145.38 864.7h13.0V1203.7h-13.0zM174.41 990.6h13.0V1203.7h-13.0zM203.45 967.0h13.0V1203.7h-13.0zM232.49 760.3h13.0V1203.7h-13.0zM261.53 994.3h13.0V1203.7h-13.0zM290.57 973.3h13.0V1203.7h-13.0zM319.60 806.3h13.0V1203.7h-13.0zM348.64 1058.9h13.0V1203.7h-13.0zM377.68 1046.4h13.0V1203.7h-13.0zM406.72 844.4h13.0V1203.7h-13.0zM522.87 1067.2h13.0V1203.7h-13.0zM551.91 1085.9h13.0V1203.7h-13.0zM580.95 896.5h13.0V1203.7h-13.0zM609.98 1085.2h13.0V1203.7h-13.0zM639.02 1070.4h13.0V1203.7h-13.0zM668.06 885.2h13.0V1203.7h-13.0zM697.10 1077.4h13.0V1203.7h-13.0zM726.14 917.0h13.0V1203.7h-13.0zM755.17 1002.6h13.0V1203.7h-13.0zM784.21 1034.9h13.0V1203.7h-13.0zM813.25 953.3h13.0V1203.7h-13.0zM842.29 1031.9h13.0V1203.7h-13.0zM900.36 1151.1h13.0V1203.7h-13.0zM929.40 1104.8h13.0V1203.7h-13.0zM958.44 1099.0h13.0V1203.7h-13.0zM987.48 1001.4h13.0V1203.7h-13.0zM1016.52 892.1h13.0V1203.7h-13.0zM1045.55 1182.1h13.0V1203.7h-13.0zM1074.59 1099.0h13.0V1203.7h-13.0zM1103.63 1153.3h13.0V1203.7h-13.0zM1248.82 1183.9h13.0V1203.7h-13.0zM1277.86 1180.6h13.0V1203.7h-13.0z" fill="#00BFC4"/>
<path d="M93.80 1048.6V1037.4M122.84 996.5V979.6M138.88 983.0V965.3M151.88 865.9V851.4M180.91 991.8V974.1M196.95 1053.1V1031.9M209.95 968.2V963.0M225.99 875.6V854.7M238.99 761.5V742.0M268.03 995.5V976.8M284.07 1025.8V1010.6M297.07 974.5V954.8M313.10 939.7V919.2M326.10 807.5V787.1M355.14 1060.1V1047.1M371.18 1118.7V1103.5M384.18 1047.6V1041.1M400.22 965.5V950.3M413.22 845.6V831.1M458.29 1046.6V1025.6M487.33 906.2V887.4M529.37 1068.4V1057.2M558.41 1087.1V1084.9M574.45 918.7V899.5M587.45 897.7V881.7M616.48 1086.4V1066.2M645.52 1071.6V1055.7M661.56 1030.1V1009.1M674.56 886.4V865.9M703.60 1078.6V1064.4M719.64 1047.3V1029.1M732.64 918.2V899.2M748.67 1093.4V1082.7M761.67 1003.8V994.3M790.71 1036.1V1015.6M806.75 1080.4V1064.4M819.75 954.5V934.0M835.79 1159.7V1141.3M848.79 1033.1V1015.1M906.86 1152.3V1142.3M922.90 1109.5V1088.5M935.90 1106.0V1091.0M964.94 1100.2V1079.0M993.98 1002.6V982.6M1023.02 893.3V878.3M1052.05 1183.3V1169.6M1068.09 1179.3V1168.3M1081.09 1100.2V1081.0M1097.13 1117.7V1102.3M1110.13 1154.5V1142.3M1255.32 1185.1V1171.8M1284.36 1181.8V1167.3" stroke="#0a0a0a" stroke-width="2.4" fill="none"/>
<path d="M92.00 1038.0h3.6M121.04 980.2h3.6M137.08 965.9h3.6M150.08 852.0h3.6M179.11 974.7h3.6M195.15 1032.5h3.6M208.15 963.6h3.6M224.19 855.3h3.6M237.19 742.6h3.6M266.23 977.4h3.6M282.27 1011.2h3.6M295.27 955.4h3.6M311.30 919.8h3.6M324.30 787.7h3.6M353.34 1047.7h3.6M369.38 1104.1h3.6M382.38 1041.7h3.6M398.42 950.9h3.6M411.42 831.7h3.6M456.49 1026.2h3.6M485.53 888.0h3.6M527.57 1057.8h3.6M556.61 1085.5h3.6M572.65 900.1h3.6M585.65 882.3h3.6M614.68 1066.8h3.6M643.72 1056.3h3.6M659.76 1009.7h3.6M672.76 866.5h3.6M701.80 1065.0h3.6M717.84 1029.7h3.6M730.84 899.8h3.6M746.87 1083.3h3.6M759.87 994.9h3.6M788.91 1016.2h3.6M804.95 1065.0h3.6M817.95 934.6h3.6M833.99 1141.9h3.6M846.99 1015.7h3.6M905.06 1142.9h3.6M921.10 1089.1h3.6M934.10 1091.6h3.6M963.14 1079.6h3.6M992.18 983.2h3.6M1021.22 878.9h3.6M1050.25 1170.2h3.6M1066.29 1168.9h3.6M1079.29 1081.6h3.6M1095.33 1102.9h3.6M1108.33 1142.9h3.6M1253.52 1172.4h3.6M1282.56 1167.9h3.6" stroke="#0a0a0a" stroke-width="1.3" fill="none"/>
<path d="M79.30 1202.8h3M108.34 1202.8h3M166.41 1202.8h3M253.53 1202.8h3M340.64 1202.8h3M427.76 1202.8h3M440.76 1202.8h3M469.79 1202.8h3M498.83 1202.8h3M514.87 1202.8h3M543.91 1202.8h3M601.98 1202.8h3M631.02 1202.8h3M689.10 1202.8h3M776.21 1202.8h3M863.33 1202.8h3M876.33 1202.8h3M892.36 1202.8h3M950.44 1202.8h3M979.48 1202.8h3M1008.52 1202.8h3M1037.55 1202.8h3M1124.67 1202.8h3M1137.67 1202.8h3M1153.71 1202.8h3M1166.71 1202.8h3M1182.74 1202.8h3M1195.74 1202.8h3M1211.78 1202.8h3M1224.78 1202.8h3M1240.82 1202.8h3M1269.86 1202.8h3M1298.90 1202.8h3M1311.90 1202.8h3M1327.93 1202.8h3M1340.93 1202.8h3M1356.97 1202.8h3M1369.97 1202.8h3M1386.01 1202.8h3M1399.01 1202.8h3M1415.05 1202.8h3M1428.05 1202.8h3M1444.09 1202.8h3M1457.09 1202.8h3M1473.12 1202.8h3M1486.12 1202.8h3M1502.16 1202.8h3M1515.16 1202.8h3M1531.20 1202.8h3M1544.20 1202.8h3M1560.24 1202.8h3M1573.24 1202.8h3M1589.28 1202.8h3M1602.28 1202.8h3M1618.31 1202.8h3M1631.31 1202.8h3" stroke="#111" stroke-width="1.8" fill="none"/>
<rect x="70.80" y="1203.7" width="1570.59" height="71.0" fill="#efefef"/>
<rect x="72.40" y="1203.7" width="27.85" height="23.2" fill="#e8e8e8"/>
<rect x="72.60" y="1228.8" width="27.95" height="21.4" fill="#f8f8f8"/>
<rect x="72.60" y="1252.0" width="27.45" height="21.7" fill="#ffffff"/>
<rect x="101.45" y="1203.7" width="27.85" height="23.2" fill="#c8c8c8"/>
<rect x="101.15" y="1228.8" width="28.45" height="21.4" fill="#f8f8f8"/>
<rect x="101.65" y="1252.0" width="27.45" height="21.7" fill="#ffffff"/>
<rect x="130.50" y="1203.7" width="27.85" height="23.2" fill="#9a9a9a"/>
<rect x="130.20" y="1228.8" width="27.95" height="21.4" fill="#f8f8f8"/>
<rect x="130.70" y="1252.0" width="27.45" height="21.7" fill="#ffffff"/>
<rect x="159.54" y="1203.7" width="27.85" height="23.2" fill="#e8e8e8"/>
<rect x="159.74" y="1228.8" width="27.95" height="21.4" fill="#d8d8d8"/>
<rect x="159.74" y="1252.0" width="27.45" height="21.7" fill="#ffffff"/>
<rect x="188.59" y="1203.7" width="27.85" height="23.2" fill="#c8c8c8"/>
<rect x="188.29" y="1228.8" width="28.45" height="21.4" fill="#d8d8d8"/>
<rect x="188.79" y="1252.0" width="27.45" height="21.7" fill="#ffffff"/>
<rect x="217.64" y="1203.7" width="27.85" height="23.2" fill="#9a9a9a"/>
<rect x="217.34" y="1228.8" width="27.95" height="21.4" fill="#d8d8d8"/>
<rect x="217.84" y="1252.0" width="27.45" height="21.7" fill="#ffffff"/>
<rect x="246.69" y="1203.7" width="27.85" height="23.2" fill="#e8e8e8"/>
<rect x="246.89" y="1228.8" width="27.95" height="21.4" fill="#9a9a9a"/>
<rect x="246.89" y="1252.0" width="27.45" height="21.7" fill="#ffffff"/>
<rect x="275.74" y="1203.7" width="27.85" height="23.2" fill="#c8c8c8"/>
<rect x="275.44" y="1228.8" width="28.45" height="21.4" fill="#9a9a9a"/>
<rect x="275.94" y="1252.0" width="27.45" height="21.7" fill="#ffffff"/>
<rect x="304.78" y="1203.7" width="27.85" height="23.2" fill="#9a9a9a"/>
<rect x="304.48" y="1228.8" width="27.95" height="21.4" fill="#9a9a9a"/>
<rect x="304.98" y="1252.0" width="27.45" height="21.7" fill="#ffffff"/>
<rect x="333.83" y="1203.7" width="27.85" height="23.2" fill="#e8e8e8"/>
<rect x="334.03" y="1228.8" width="27.95" height="21.4" fill="#f8f8f8"/>
<rect x="334.03" y="1252.0" width="27.45" height="21.7" fill="#e6e6e6"/>
<rect x="362.88" y="1203.7" width="27.85" height="23.2" fill="#c8c8c8"/>
<rect x="362.58" y="1228.8" width="28.45" height="21.4" fill="#f8f8f8"/>
<rect x="363.08" y="1252.0" width="27.45" height="21.7" fill="#e6e6e6"/>
<rect x="391.93" y="1203.7" width="27.85" height="23.2" fill="#9a9a9a"/>
<rect x="391.63" y="1228.8" width="27.95" height="21.4" fill="#f8f8f8"/>
<rect x="392.13" y="1252.0" width="27.45" height="21.7" fill="#e6e6e6"/>
<rect x="420.98" y="1203.7" width="27.85" height="23.2" fill="#e8e8e8"/>
<rect x="421.18" y="1228.8" width="27.95" height="21.4" fill="#d8d8d8"/>
<rect x="421.18" y="1252.0" width="27.45" height="21.7" fill="#e6e6e6"/>
<rect x="450.02" y="1203.7" width="27.85" height="23.2" fill="#c8c8c8"/>
<rect x="449.72" y="1228.8" width="28.45" height="21.4" fill="#d8d8d8"/>
<rect x="450.22" y="1252.0" width="27.45" height="21.7" fill="#e6e6e6"/>
<rect x="479.07" y="1203.7" width="27.85" height="23.2" fill="#9a9a9a"/>
<rect x="478.77" y="1228.8" width="27.95" height="21.4" fill="#d8d8d8"/>
<rect x="479.27" y="1252.0" width="27.45" height="21.7" fill="#e6e6e6"/>
<rect x="508.12" y="1203.7" width="27.85" height="23.2" fill="#e8e8e8"/>
<rect x="508.32" y="1228.8" width="27.95" height="21.4" fill="#9a9a9a"/>
<rect x="508.32" y="1252.0" width="27.45" height="21.7" fill="#e6e6e6"/>
<rect x="537.17" y="1203.7" width="27.85" height="23.2" fill="#c8c8c8"/>
<rect x="536.87" y="1228.8" width="28.45" height="21.4" fill="#9a9a9a"/>
<rect x="537.37" y="1252.0" width="27.45" height="21.7" fill="#e6e6e6"/>
<rect x="566.22" y="1203.7" width="27.85" height="23.2" fill="#9a9a9a"/>
<rect x="565.92" y="1228.8" width="27.95" height="21.4" fill="#9a9a9a"/>
<rect x="566.42" y="1252.0" width="27.45" height="21.7" fill="#e6e6e6"/>
<rect x="595.26" y="1203.7" width="27.85" height="23.2" fill="#e8e8e8"/>
<rect x="595.46" y="1228.8" width="27.95" height="21.4" fill="#f8f8f8"/>
<rect x="595.46" y="1252.0" width="27.45" height="21.7" fill="#d4d4d4"/>
<rect x="624.31" y="1203.7" width="27.85" height="23.2" fill="#c8c8c8"/>
<rect x="624.01" y="1228.8" width="28.45" height="21.4" fill="#f8f8f8"/>
<rect x="624.51" y="1252.0" width="27.45" height="21.7" fill="#d4d4d4"/>
<rect x="653.36" y="1203.7" width="27.85" height="23.2" fill="#9a9a9a"/>
<rect x="653.06" y="1228.8" width="27.95" height="21.4" fill="#f8f8f8"/>
<rect x="653.56" y="1252.0" width="27.45" height="21.7" fill="#d4d4d4"/>
<rect x="682.41" y="1203.7" width="27.85" height="23.2" fill="#e8e8e8"/>
<rect x="682.61" y="1228.8" width="27.95" height="21.4" fill="#d8d8d8"/>
<rect x="682.61" y="1252.0" width="27.45" height="21.7" fill="#d4d4d4"/>
<rect x="711.46" y="1203.7" width="27.85" height="23.2" fill="#c8c8c8"/>
<rect x="711.16" y="1228.8" width="28.45" height="21.4" fill="#d8d8d8"/>
<rect x="711.66" y="1252.0" width="27.45" height="21.7" fill="#d4d4d4"/>
<rect x="740.50" y="1203.7" width="27.85" height="23.2" fill="#9a9a9a"/>
<rect x="740.20" y="1228.8" width="27.95" height="21.4" fill="#d8d8d8"/>
<rect x="740.70" y="1252.0" width="27.45" height="21.7" fill="#d4d4d4"/>
<rect x="769.55" y="1203.7" width="27.85" height="23.2" fill="#e8e8e8"/>
<rect x="769.75" y="1228.8" width="27.95" height="21.4" fill="#9a9a9a"/>
<rect x="769.75" y="1252.0" width="27.45" height="21.7" fill="#d4d4d4"/>
<rect x="798.60" y="1203.7" width="27.85" height="23.2" fill="#c8c8c8"/>
<rect x="798.30" y="1228.8" width="28.45" height="21.4" fill="#9a9a9a"/>
<rect x="798.80" y="1252.0" width="27.45" height="21.7" fill="#d4d4d4"/>
<rect x="827.65" y="1203.7" width="27.85" height="23.2" fill="#9a9a9a"/>
<rect x="827.35" y="1228.8" width="27.95" height="21.4" fill="#9a9a9a"/>
<rect x="827.85" y="1252.0" width="27.45" height="21.7" fill="#d4d4d4"/>
<rect x="856.70" y="1203.7" width="27.85" height="23.2" fill="#e8e8e8"/>
<rect x="856.90" y="1228.8" width="27.95" height="21.4" fill="#f8f8f8"/>
<rect x="856.90" y="1252.0" width="27.45" height="21.7" fill="#c2c2c2"/>
<rect x="885.74" y="1203.7" width="27.85" height="23.2" fill="#c8c8c8"/>
<rect x="885.44" y="1228.8" width="28.45" height="21.4" fill="#f8f8f8"/>
<rect x="885.94" y="1252.0" width="27.45" height="21.7" fill="#c2c2c2"/>
<rect x="914.79" y="1203.7" width="27.85" height="23.2" fill="#9a9a9a"/>
<rect x="914.49" y="1228.8" width="27.95" height="21.4" fill="#f8f8f8"/>
<rect x="914.99" y="1252.0" width="27.45" height="21.7" fill="#c2c2c2"/>
<rect x="943.84" y="1203.7" width="27.85" height="23.2" fill="#e8e8e8"/>
<rect x="944.04" y="1228.8" width="27.95" height="21.4" fill="#d8d8d8"/>
<rect x="944.04" y="1252.0" width="27.45" height="21.7" fill="#c2c2c2"/>
<rect x="972.89" y="1203.7" width="27.85" height="23.2" fill="#c8c8c8"/>
<rect x="972.59" y="1228.8" width="28.45" height="21.4" fill="#d8d8d8"/>
<rect x="973.09" y="1252.0" width="27.45" height="21.7" fill="#c2c2c2"/>
<rect x="1001.94" y="1203.7" width="27.85" height="23.2" fill="#9a9a9a"/>
<rect x="1001.64" y="1228.8" width="27.95" height="21.4" fill="#d8d8d8"/>
<rect x="1002.14" y="1252.0" width="27.45" height="21.7" fill="#c2c2c2"/>
<rect x="1030.98" y="1203.7" width="27.85" height="23.2" fill="#e8e8e8"/>
<rect x="1031.18" y="1228.8" width="27.95" height="21.4" fill="#9a9a9a"/>
<rect x="1031.18" y="1252.0" width="27.45" height="21.7" fill="#c2c2c2"/>
<rect x="1060.03" y="1203.7" width="27.85" height="23.2" fill="#c8c8c8"/>
<rect x="1059.73" y="1228.8" width="28.45" height="21.4" fill="#9a9a9a"/>
<rect x="1060.23" y="1252.0" width="27.45" height="21.7" fill="#c2c2c2"/>
<rect x="1089.08" y="1203.7" width="27.85" height="23.2" fill="#9a9a9a"/>
<rect x="1088.78" y="1228.8" width="27.95" height="21.4" fill="#9a9a9a"/>
<rect x="1089.28" y="1252.0" width="27.45" height="21.7" fill="#c2c2c2"/>
<rect x="1118.13" y="1203.7" width="27.85" height="23.2" fill="#e8e8e8"/>
<rect x="1118.33" y="1228.8" width="27.95" height="21.4" fill="#f8f8f8"/>
<rect x="1118.33" y="1252.0" width="27.45" height="21.7" fill="#adadad"/>
<rect x="1147.18" y="1203.7" width="27.85" height="23.2" fill="#c8c8c8"/>
<rect x="1146.88" y="1228.8" width="28.45" height="21.4" fill="#f8f8f8"/>
<rect x="1147.38" y="1252.0" width="27.45" height="21.7" fill="#adadad"/>
<rect x="1176.22" y="1203.7" width="27.85" height="23.2" fill="#9a9a9a"/>
<rect x="1175.92" y="1228.8" width="27.95" height="21.4" fill="#f8f8f8"/>
<rect x="1176.42" y="1252.0" width="27.45" height="21.7" fill="#adadad"/>
<rect x="1205.27" y="1203.7" width="27.85" height="23.2" fill="#e8e8e8"/>
<rect x="1205.47" y="1228.8" width="27.95" height="21.4" fill="#d8d8d8"/>
<rect x="1205.47" y="1252.0" width="27.45" height="21.7" fill="#adadad"/>
<rect x="1234.32" y="1203.7" width="27.85" height="23.2" fill="#c8c8c8"/>
<rect x="1234.02" y="1228.8" width="28.45" height="21.4" fill="#d8d8d8"/>
<rect x="1234.52" y="1252.0" width="27.45" height="21.7" fill="#adadad"/>
<rect x="1263.37" y="1203.7" width="27.85" height="23.2" fill="#9a9a9a"/>
<rect x="1263.07" y="1228.8" width="27.95" height="21.4" fill="#d8d8d8"/>
<rect x="1263.57" y="1252.0" width="27.45" height="21.7" fill="#adadad"/>
<rect x="1292.42" y="1203.7" width="27.85" height="23.2" fill="#e8e8e8"/>
<rect x="1292.62" y="1228.8" width="27.95" height="21.4" fill="#9a9a9a"/>
<rect x="1292.62" y="1252.0" width="27.45" height="21.7" fill="#adadad"/>
<rect x="1321.46" y="1203.7" width="27.85" height="23.2" fill="#c8c8c8"/>
<rect x="1321.16" y="1228.8" width="28.45" height="21.4" fill="#9a9a9a"/>
<rect x="1321.66" y="1252.0" width="27.45" height="21.7" fill="#adadad"/>
<rect x="1350.51" y="1203.7" width="27.85" height="23.2" fill="#9a9a9a"/>
<rect x="1350.21" y="1228.8" width="27.95" height="21.4" fill="#9a9a9a"/>
<rect x="1350.71" y="1252.0" width="27.45" height="21.7" fill="#adadad"/>
<rect x="1379.56" y="1203.7" width="27.85" height="23.2" fill="#e8e8e8"/>
<rect x="1379.76" y="1228.8" width="27.95" height="21.4" fill="#f8f8f8"/>
<rect x="1379.76" y="1252.0" width="27.45" height="21.7" fill="#999999"/>
<rect x="1408.61" y="1203.7" width="27.85" height="23.2" fill="#c8c8c8"/>
<rect x="1408.31" y="1228.8" width="28.45" height="21.4" fill="#f8f8f8"/>
<rect x="1408.81" y="1252.0" width="27.45" height="21.7" fill="#999999"/>
<rect x="1437.66" y="1203.7" width="27.85" height="23.2" fill="#9a9a9a"/>
<rect x="1437.36" y="1228.8" width="27.95" height="21.4" fill="#f8f8f8"/>
<rect x="1437.86" y="1252.0" width="27.45" height="21.7" fill="#999999"/>
<rect x="1466.70" y="1203.7" width="27.85" height="23.2" fill="#e8e8e8"/>
<rect x="1466.90" y="1228.8" width="27.95" height="21.4" fill="#d8d8d8"/>
<rect x="1466.90" y="1252.0" width="27.45" height="21.7" fill="#999999"/>
<rect x="1495.75" y="1203.7" width="27.85" height="23.2" fill="#c8c8c8"/>
<rect x="1495.45" y="1228.8" width="28.45" height="21.4" fill="#d8d8d8"/>
<rect x="1495.95" y="1252.0" width="27.45" height="21.7" fill="#999999"/>
<rect x="1524.80" y="1203.7" width="27.85" height="23.2" fill="#9a9a9a"/>
<rect x="1524.50" y="1228.8" width="27.95" height="21.4" fill="#d8d8d8"/>
<rect x="1525.00" y="1252.0" width="27.45" height="21.7" fill="#999999"/>
<rect x="1553.85" y="1203.7" width="27.85" height="23.2" fill="#e8e8e8"/>
<rect x="1554.05" y="1228.8" width="27.95" height="21.4" fill="#9a9a9a"/>
<rect x="1554.05" y="1252.0" width="27.45" height="21.7" fill="#999999"/>
<rect x="1582.90" y="1203.7" width="27.85" height="23.2" fill="#c8c8c8"/>
<rect x="1582.60" y="1228.8" width="28.45" height="21.4" fill="#9a9a9a"/>
<rect x="1583.10" y="1252.0" width="27.45" height="21.7" fill="#999999"/>
<rect x="1611.94" y="1203.7" width="27.85" height="23.2" fill="#9a9a9a"/>
<rect x="1611.64" y="1228.8" width="27.95" height="21.4" fill="#9a9a9a"/>
<rect x="1612.14" y="1252.0" width="27.45" height="21.7" fill="#999999"/>
<text x="86.9" y="1221.4" text-anchor="middle" font-family="DejaVu Sans, Verdana, sans-serif" font-weight="bold" font-size="14.5" fill="#000" stroke="#000" stroke-width="0.2">T1</text>
<text x="116.0" y="1220.5" text-anchor="middle" font-family="DejaVu Sans, Verdana, sans-serif" font-weight="bold" font-size="14.5" fill="#000" stroke="#000" stroke-width="0.2">T2</text>
<text x="145.0" y="1220.1" text-anchor="middle" font-family="DejaVu Sans, Verdana, sans-serif" font-weight="bold" font-size="14.5" fill="#000" stroke="#000" stroke-width="0.2">T3</text>
<text x="174.1" y="1222.0" text-anchor="middle" font-family="DejaVu Sans, Verdana, sans-serif" font-weight="bold" font-size="14.5" fill="#000" stroke="#000" stroke-width="0.2">T1</text>
<text x="203.1" y="1221.0" text-anchor="middle" font-family="DejaVu Sans, Verdana, sans-serif" font-weight="bold" font-size="14.5" fill="#000" stroke="#000" stroke-width="0.2">T2</text>
<text x="232.2" y="1220.5" text-anchor="middle" font-family="DejaVu Sans, Verdana, sans-serif" font-weight="bold" font-size="14.5" fill="#000" stroke="#000" stroke-width="0.2">T3</text>
<text x="261.2" y="1221.4" text-anchor="middle" font-family="DejaVu Sans, Verdana, sans-serif" font-weight="bold" font-size="14.5" fill="#000" stroke="#000" stroke-width="0.2">T1</text>
<text x="290.3" y="1220.5" text-anchor="middle" font-family="DejaVu Sans, Verdana, sans-serif" font-weight="bold" font-size="14.5" fill="#000" stroke="#000" stroke-width="0.2">T2</text>
<text x="319.3" y="1220.1" text-anchor="middle" font-family="DejaVu Sans, Verdana, sans-serif" font-weight="bold" font-size="14.5" fill="#000" stroke="#000" stroke-width="0.2">T3</text>
<text x="348.4" y="1221.4" text-anchor="middle" font-family="DejaVu Sans, Verdana, sans-serif" font-weight="bold" font-size="14.5" fill="#000" stroke="#000" stroke-width="0.2">T1</text>
<text x="377.4" y="1220.5" text-anchor="middle" font-family="DejaVu Sans, Verdana, sans-serif" font-weight="bold" font-size="14.5" fill="#000" stroke="#000" stroke-width="0.2">T2</text>
<text x="406.5" y="1220.1" text-anchor="middle" font-family="DejaVu Sans, Verdana, sans-serif" font-weight="bold" font-size="14.5" fill="#000" stroke="#000" stroke-width="0.2">T3</text>
<text x="435.5" y="1222.0" text-anchor="middle" font-family="DejaVu Sans, Verdana, sans-serif" font-weight="bold" font-size="14.5" fill="#000" stroke="#000" stroke-width="0.2">T1</text>
<text x="464.5" y="1221.0" text-anchor="middle" font-family="DejaVu Sans, Verdana, sans-serif" font-weight="bold" font-size="14.5" fill="#000" stroke="#000" stroke-width="0.2">T2</text>
<text x="493.6" y="1220.5" text-anchor="middle" font-family="DejaVu Sans, Verdana, sans-serif" font-weight="bold" font-size="14.5" fill="#000" stroke="#000" stroke-width="0.2">T3</text>
<text x="522.6" y="1221.4" text-anchor="middle" font-family="DejaVu Sans, Verdana, sans-serif" font-weight="bold" font-size="14.5" fill="#000" stroke="#000" stroke-width="0.2">T1</text>
<text x="551.7" y="1220.5" text-anchor="middle" font-family="DejaVu Sans, Verdana, sans-serif" font-weight="bold" font-size="14.5" fill="#000" stroke="#000" stroke-width="0.2">T2</text>
<text x="580.7" y="1220.1" text-anchor="middle" font-family="DejaVu Sans, Verdana, sans-serif" font-weight="bold" font-size="14.5" fill="#000" stroke="#000" stroke-width="0.2">T3</text>
<text x="609.8" y="1221.4" text-anchor="middle" font-family="DejaVu Sans, Verdana, sans-serif" font-weight="bold" font-size="14.5" fill="#000" stroke="#000" stroke-width="0.2">T1</text>
<text x="638.8" y="1220.5" text-anchor="middle" font-family="DejaVu Sans, Verdana, sans-serif" font-weight="bold" font-size="14.5" fill="#000" stroke="#000" stroke-width="0.2">T2</text>
<text x="667.9" y="1220.1" text-anchor="middle" font-family="DejaVu Sans, Verdana, sans-serif" font-weight="bold" font-size="14.5" fill="#000" stroke="#000" stroke-width="0.2">T3</text>
<text x="696.9" y="1222.0" text-anchor="middle" font-family="DejaVu Sans, Verdana, sans-serif" font-weight="bold" font-size="14.5" fill="#000" stroke="#000" stroke-width="0.2">T1</text>
<text x="726.0" y="1221.0" text-anchor="middle" font-family="DejaVu Sans, Verdana, sans-serif" font-weight="bold" font-size="14.5" fill="#000" stroke="#000" stroke-width="0.2">T2</text>
<text x="755.0" y="1220.5" text-anchor="middle" font-family="DejaVu Sans, Verdana, sans-serif" font-weight="bold" font-size="14.5" fill="#000" stroke="#000" stroke-width="0.2">T3</text>
<text x="784.1" y="1221.4" text-anchor="middle" font-family="DejaVu Sans, Verdana, sans-serif" font-weight="bold" font-size="14.5" fill="#000" stroke="#000" stroke-width="0.2">T1</text>
<text x="813.1" y="1220.5" text-anchor="middle" font-family="DejaVu Sans, Verdana, sans-serif" font-weight="bold" font-size="14.5" fill="#000" stroke="#000" stroke-width="0.2">T2</text>
<text x="842.2" y="1220.1" text-anchor="middle" font-family="DejaVu Sans, Verdana, sans-serif" font-weight="bold" font-size="14.5" fill="#000" stroke="#000" stroke-width="0.2">T3</text>
<text x="871.2" y="1221.4" text-anchor="middle" font-family="DejaVu Sans, Verdana, sans-serif" font-weight="bold" font-size="14.5" fill="#000" stroke="#000" stroke-width="0.2">T1</text>
<text x="900.3" y="1220.5" text-anchor="middle" font-family="DejaVu Sans, Verdana, sans-serif" font-weight="bold" font-size="14.5" fill="#000" stroke="#000" stroke-width="0.2">T2</text>
<text x="929.3" y="1220.1" text-anchor="middle" font-family="DejaVu Sans, Verdana, sans-serif" font-weight="bold" font-size="14.5" fill="#000" stroke="#000" stroke-width="0.2">T3</text>
<text x="958.4" y="1222.0" text-anchor="middle" font-family="DejaVu Sans, Verdana, sans-serif" font-weight="bold" font-size="14.5" fill="#000" stroke="#000" stroke-width="0.2">T1</text>
<text x="987.4" y="1221.0" text-anchor="middle" font-family="DejaVu Sans, Verdana, sans-serif" font-weight="bold" font-size="14.5" fill="#000" stroke="#000" stroke-width="0.2">T2</text>
<text x="1016.5" y="1220.5" text-anchor="middle" font-family="DejaVu Sans, Verdana, sans-serif" font-weight="bold" font-size="14.5" fill="#000" stroke="#000" stroke-width="0.2">T3</text>
<text x="1045.5" y="1221.4" text-anchor="middle" font-family="DejaVu Sans, Verdana, sans-serif" font-weight="bold" font-size="14.5" fill="#000" stroke="#000" stroke-width="0.2">T1</text>
<text x="1074.6" y="1220.5" text-anchor="middle" font-family="DejaVu Sans, Verdana, sans-serif" font-weight="bold" font-size="14.5" fill="#000" stroke="#000" stroke-width="0.2">T2</text>
<text x="1103.6" y="1220.1" text-anchor="middle" font-family="DejaVu Sans, Verdana, sans-serif" font-weight="bold" font-size="14.5" fill="#000" stroke="#000" stroke-width="0.2">T3</text>
<text x="1132.7" y="1221.4" text-anchor="middle" font-family="DejaVu Sans, Verdana, sans-serif" font-weight="bold" font-size="14.5" fill="#000" stroke="#000" stroke-width="0.2">T1</text>
<text x="1161.7" y="1220.5" text-anchor="middle" font-family="DejaVu Sans, Verdana, sans-serif" font-weight="bold" font-size="14.5" fill="#000" stroke="#000" stroke-width="0.2">T2</text>
<text x="1190.7" y="1220.1" text-anchor="middle" font-family="DejaVu Sans, Verdana, sans-serif" font-weight="bold" font-size="14.5" fill="#000" stroke="#000" stroke-width="0.2">T3</text>
<text x="1219.8" y="1222.0" text-anchor="middle" font-family="DejaVu Sans, Verdana, sans-serif" font-weight="bold" font-size="14.5" fill="#000" stroke="#000" stroke-width="0.2">T1</text>
<text x="1248.8" y="1221.0" text-anchor="middle" font-family="DejaVu Sans, Verdana, sans-serif" font-weight="bold" font-size="14.5" fill="#000" stroke="#000" stroke-width="0.2">T2</text>
<text x="1277.9" y="1220.5" text-anchor="middle" font-family="DejaVu Sans, Verdana, sans-serif" font-weight="bold" font-size="14.5" fill="#000" stroke="#000" stroke-width="0.2">T3</text>
<text x="1306.9" y="1221.4" text-anchor="middle" font-family="DejaVu Sans, Verdana, sans-serif" font-weight="bold" font-size="14.5" fill="#000" stroke="#000" stroke-width="0.2">T1</text>
<text x="1336.0" y="1220.5" text-anchor="middle" font-family="DejaVu Sans, Verdana, sans-serif" font-weight="bold" font-size="14.5" fill="#000" stroke="#000" stroke-width="0.2">T2</text>
<text x="1365.0" y="1220.1" text-anchor="middle" font-family="DejaVu Sans, Verdana, sans-serif" font-weight="bold" font-size="14.5" fill="#000" stroke="#000" stroke-width="0.2">T3</text>
<text x="1394.1" y="1221.4" text-anchor="middle" font-family="DejaVu Sans, Verdana, sans-serif" font-weight="bold" font-size="14.5" fill="#000" stroke="#000" stroke-width="0.2">T1</text>
<text x="1423.1" y="1220.5" text-anchor="middle" font-family="DejaVu Sans, Verdana, sans-serif" font-weight="bold" font-size="14.5" fill="#000" stroke="#000" stroke-width="0.2">T2</text>
<text x="1452.2" y="1220.1" text-anchor="middle" font-family="DejaVu Sans, Verdana, sans-serif" font-weight="bold" font-size="14.5" fill="#000" stroke="#000" stroke-width="0.2">T3</text>
<text x="1481.2" y="1222.0" text-anchor="middle" font-family="DejaVu Sans, Verdana, sans-serif" font-weight="bold" font-size="14.5" fill="#000" stroke="#000" stroke-width="0.2">T1</text>
<text x="1510.3" y="1221.0" text-anchor="middle" font-family="DejaVu Sans, Verdana, sans-serif" font-weight="bold" font-size="14.5" fill="#000" stroke="#000" stroke-width="0.2">T2</text>
<text x="1539.3" y="1220.5" text-anchor="middle" font-family="DejaVu Sans, Verdana, sans-serif" font-weight="bold" font-size="14.5" fill="#000" stroke="#000" stroke-width="0.2">T3</text>
<text x="1568.4" y="1221.4" text-anchor="middle" font-family="DejaVu Sans, Verdana, sans-serif" font-weight="bold" font-size="14.5" fill="#000" stroke="#000" stroke-width="0.2">T1</text>
<text x="1597.4" y="1220.5" text-anchor="middle" font-family="DejaVu Sans, Verdana, sans-serif" font-weight="bold" font-size="14.5" fill="#000" stroke="#000" stroke-width="0.2">T2</text>
<text x="1626.5" y="1220.1" text-anchor="middle" font-family="DejaVu Sans, Verdana, sans-serif" font-weight="bold" font-size="14.5" fill="#000" stroke="#000" stroke-width="0.2">T3</text>
<text x="118.5" y="1244.1" text-anchor="middle" font-family="Liberation Sans, Arial, Helvetica, sans-serif" font-weight="bold" font-size="15.5" fill="#000" stroke="#000" stroke-width="0.25">BRAIN</text>
<text x="204.1" y="1244.1" text-anchor="middle" font-family="Liberation Sans, Arial, Helvetica, sans-serif" font-weight="bold" font-size="15.5" fill="#000" stroke="#000" stroke-width="0.25">LUNG</text>
<text x="288.0" y="1244.1" text-anchor="middle" font-family="Liberation Sans, Arial, Helvetica, sans-serif" font-weight="bold" font-size="15.5" fill="#000" stroke="#000" stroke-width="0.25">ILEUM</text>
<text x="204.0" y="1271.5" text-anchor="middle" font-family="Liberation Sans, Arial, Helvetica, sans-serif" font-weight="bold" font-size="19.7" fill="#000" stroke="#000" stroke-width="0.25">CHICKEN</text>
<text x="380.2" y="1244.1" text-anchor="middle" font-family="Liberation Sans, Arial, Helvetica, sans-serif" font-weight="bold" font-size="15.5" fill="#000" stroke="#000" stroke-width="0.25">BRAIN</text>
<text x="465.5" y="1244.1" text-anchor="middle" font-family="Liberation Sans, Arial, Helvetica, sans-serif" font-weight="bold" font-size="15.5" fill="#000" stroke="#000" stroke-width="0.25">LUNG</text>
<text x="549.5" y="1244.1" text-anchor="middle" font-family="Liberation Sans, Arial, Helvetica, sans-serif" font-weight="bold" font-size="15.5" fill="#000" stroke="#000" stroke-width="0.25">ILEUM</text>
<text x="461.4" y="1271.5" text-anchor="middle" font-family="Liberation Sans, Arial, Helvetica, sans-serif" font-weight="bold" font-size="19.7" fill="#000" stroke="#000" stroke-width="0.25">TURKEY</text>
<text x="640.0" y="1244.1" text-anchor="middle" font-family="Liberation Sans, Arial, Helvetica, sans-serif" font-weight="bold" font-size="15.5" fill="#000" stroke="#000" stroke-width="0.25">BRAIN</text>
<text x="725.5" y="1244.1" text-anchor="middle" font-family="Liberation Sans, Arial, Helvetica, sans-serif" font-weight="bold" font-size="15.5" fill="#000" stroke="#000" stroke-width="0.25">LUNG</text>
<text x="809.9" y="1244.1" text-anchor="middle" font-family="Liberation Sans, Arial, Helvetica, sans-serif" font-weight="bold" font-size="15.5" fill="#000" stroke="#000" stroke-width="0.25">ILEUM</text>
<text x="714.2" y="1271.5" text-anchor="middle" font-family="Liberation Sans, Arial, Helvetica, sans-serif" font-weight="bold" font-size="19.7" fill="#000" stroke="#000" stroke-width="0.25">DUCK</text>
<text x="901.5" y="1244.1" text-anchor="middle" font-family="Liberation Sans, Arial, Helvetica, sans-serif" font-weight="bold" font-size="15.5" fill="#000" stroke="#000" stroke-width="0.25">BRAIN</text>
<text x="986.7" y="1244.1" text-anchor="middle" font-family="Liberation Sans, Arial, Helvetica, sans-serif" font-weight="bold" font-size="15.5" fill="#000" stroke="#000" stroke-width="0.25">LUNG</text>
<text x="1070.9" y="1244.1" text-anchor="middle" font-family="Liberation Sans, Arial, Helvetica, sans-serif" font-weight="bold" font-size="15.5" fill="#000" stroke="#000" stroke-width="0.25">ILEUM</text>
<text x="977.3" y="1271.5" text-anchor="middle" font-family="Liberation Sans, Arial, Helvetica, sans-serif" font-weight="bold" font-size="19.7" fill="#000" stroke="#000" stroke-width="0.25">CROW</text>
<text x="1162.9" y="1244.1" text-anchor="middle" font-family="Liberation Sans, Arial, Helvetica, sans-serif" font-weight="bold" font-size="15.5" fill="#000" stroke="#000" stroke-width="0.25">BRAIN</text>
<text x="1248.1" y="1244.1" text-anchor="middle" font-family="Liberation Sans, Arial, Helvetica, sans-serif" font-weight="bold" font-size="15.5" fill="#000" stroke="#000" stroke-width="0.25">LUNG</text>
<text x="1332.5" y="1244.1" text-anchor="middle" font-family="Liberation Sans, Arial, Helvetica, sans-serif" font-weight="bold" font-size="15.5" fill="#000" stroke="#000" stroke-width="0.25">ILEUM</text>
<text x="1243.7" y="1271.5" text-anchor="middle" font-family="Liberation Sans, Arial, Helvetica, sans-serif" font-weight="bold" font-size="19.7" fill="#000" stroke="#000" stroke-width="0.25">GOOSE</text>
<text x="1423.8" y="1244.1" text-anchor="middle" font-family="Liberation Sans, Arial, Helvetica, sans-serif" font-weight="bold" font-size="15.5" fill="#000" stroke="#000" stroke-width="0.25">BRAIN</text>
<text x="1508.8" y="1244.1" text-anchor="middle" font-family="Liberation Sans, Arial, Helvetica, sans-serif" font-weight="bold" font-size="15.5" fill="#000" stroke="#000" stroke-width="0.25">LUNG</text>
<text x="1593.1" y="1244.1" text-anchor="middle" font-family="Liberation Sans, Arial, Helvetica, sans-serif" font-weight="bold" font-size="15.5" fill="#000" stroke="#000" stroke-width="0.25">ILEUM</text>
<text x="1506.7" y="1271.5" text-anchor="middle" font-family="Liberation Sans, Arial, Helvetica, sans-serif" font-weight="bold" font-size="19.7" fill="#000" stroke="#000" stroke-width="0.25">PIGEON</text>
<text x="53.6" y="1212.4" text-anchor="end" font-family="Liberation Sans, Arial, Helvetica, sans-serif" font-size="17" fill="#3a3a3a">10</text>
<text x="53.9" y="1203.7" font-family="Liberation Sans, Arial, Helvetica, sans-serif" font-size="12" fill="#3a3a3a">0</text>
<text x="53.6" y="1085.1" text-anchor="end" font-family="Liberation Sans, Arial, Helvetica, sans-serif" font-size="17" fill="#3a3a3a">10</text>
<text x="53.9" y="1076.4" font-family="Liberation Sans, Arial, Helvetica, sans-serif" font-size="12" fill="#3a3a3a">2</text>
<text x="53.6" y="957.7" text-anchor="end" font-family="Liberation Sans, Arial, Helvetica, sans-serif" font-size="17" fill="#3a3a3a">10</text>
<text x="53.9" y="949.0" font-family="Liberation Sans, Arial, Helvetica, sans-serif" font-size="12" fill="#3a3a3a">4</text>
<text x="53.6" y="830.4" text-anchor="end" font-family="Liberation Sans, Arial, Helvetica, sans-serif" font-size="17" fill="#3a3a3a">10</text>
<text x="53.9" y="821.7" font-family="Liberation Sans, Arial, Helvetica, sans-serif" font-size="12" fill="#3a3a3a">6</text>
<text x="53.6" y="703.0" text-anchor="end" font-family="Liberation Sans, Arial, Helvetica, sans-serif" font-size="17" fill="#3a3a3a">10</text>
<text x="53.9" y="694.3" font-family="Liberation Sans, Arial, Helvetica, sans-serif" font-size="12" fill="#3a3a3a">8</text>
<text transform="translate(30.0 1170.1) rotate(-90.12)" font-family="DejaVu Sans, Verdana, sans-serif" font-size="20.5" textLength="396.0" lengthAdjust="spacing" fill="#000">Average count/ Normalised viral RNA</text>
<text transform="translate(29.2 770.3) rotate(-90.12)" font-family="DejaVu Sans, Verdana, sans-serif" font-size="22" textLength="73.1" lengthAdjust="spacingAndGlyphs" fill="#000">(ΔΔCt)</text>
<text x="103.4" y="710.0" font-family="Liberation Sans, Arial, Helvetica, sans-serif" font-weight="bold" font-size="39.2" fill="#000">HPAI 2.2</text>
</g>
<g id="panel2">
<path d="M70.5 1796.30H1643.3M70.5 1669.10H1643.3M70.5 1541.90H1643.3M70.5 1414.70H1643.3" stroke="#e3e3e3" stroke-width="1.0" fill="none"/>
<path d="M87.30 1325.8V1859.9M116.34 1325.8V1859.9M145.38 1325.8V1859.9M174.41 1325.8V1859.9M203.45 1325.8V1859.9M232.49 1325.8V1859.9M261.53 1325.8V1859.9M290.57 1325.8V1859.9M319.60 1325.8V1859.9M348.64 1325.8V1859.9M377.68 1325.8V1859.9M406.72 1325.8V1859.9M435.76 1325.8V1859.9M464.79 1325.8V1859.9M493.83 1325.8V1859.9M522.87 1325.8V1859.9M551.91 1325.8V1859.9M580.95 1325.8V1859.9M609.98 1325.8V1859.9M639.02 1325.8V1859.9M668.06 1325.8V1859.9M697.10 1325.8V1859.9M726.14 1325.8V1859.9M755.17 1325.8V1859.9M784.21 1325.8V1859.9M813.25 1325.8V1859.9M842.29 1325.8V1859.9M871.33 1325.8V1859.9M900.36 1325.8V1859.9M929.40 1325.8V1859.9M958.44 1325.8V1859.9M987.48 1325.8V1859.9M1016.52 1325.8V1859.9M1045.55 1325.8V1859.9M1074.59 1325.8V1859.9M1103.63 1325.8V1859.9M1132.67 1325.8V1859.9M1161.71 1325.8V1859.9M1190.74 1325.8V1859.9M1219.78 1325.8V1859.9M1248.82 1325.8V1859.9M1277.86 1325.8V1859.9M1306.90 1325.8V1859.9M1335.93 1325.8V1859.9M1364.97 1325.8V1859.9M1394.01 1325.8V1859.9M1423.05 1325.8V1859.9M1452.09 1325.8V1859.9M1481.12 1325.8V1859.9M1510.16 1325.8V1859.9M1539.20 1325.8V1859.9M1568.24 1325.8V1859.9M1597.28 1325.8V1859.9M1626.31 1325.8V1859.9M70.5 1859.90H1643.3M70.5 1732.70H1643.3M70.5 1605.50H1643.3M70.5 1478.30H1643.3M70.5 1351.10H1643.3" stroke="#e3e3e3" stroke-width="1.4" fill="none"/>
<path d="M132.38 1565.2h13.0V1860.5h-13.0zM190.45 1741.9h13.0V1860.5h-13.0zM219.49 1478.9h13.0V1860.5h-13.0zM306.60 1510.7h13.0V1860.5h-13.0zM364.68 1757.7h13.0V1860.5h-13.0zM393.72 1568.5h13.0V1860.5h-13.0zM451.79 1620.5h13.0V1860.5h-13.0zM480.83 1506.9h13.0V1860.5h-13.0zM538.91 1749.2h13.0V1860.5h-13.0zM567.95 1544.7h13.0V1860.5h-13.0zM626.02 1621.0h13.0V1860.5h-13.0zM655.06 1718.4h13.0V1860.5h-13.0zM713.14 1554.2h13.0V1860.5h-13.0zM742.17 1729.9h13.0V1860.5h-13.0zM800.25 1590.8h13.0V1860.5h-13.0zM829.29 1694.1h13.0V1860.5h-13.0zM1090.63 1681.9h13.0V1860.5h-13.0zM1235.82 1706.2h13.0V1860.5h-13.0zM1351.97 1765.0h13.0V1860.5h-13.0zM1468.12 1590.5h13.0V1860.5h-13.0zM1497.16 1614.3h13.0V1860.5h-13.0z" fill="#F8766D"/>
<path d="M87.30 1726.2h13.0V1860.5h-13.0zM116.34 1659.1h13.0V1860.5h-13.0zM145.38 1493.9h13.0V1860.5h-13.0zM174.41 1647.3h13.0V1860.5h-13.0zM203.45 1657.6h13.0V1860.5h-13.0zM232.49 1411.3h13.0V1860.5h-13.0zM261.53 1652.8h13.0V1860.5h-13.0zM290.57 1681.4h13.0V1860.5h-13.0zM319.60 1482.1h13.0V1860.5h-13.0zM348.64 1686.6h13.0V1860.5h-13.0zM377.68 1682.1h13.0V1860.5h-13.0zM406.72 1487.9h13.0V1860.5h-13.0zM522.87 1677.4h13.0V1860.5h-13.0zM551.91 1617.0h13.0V1860.5h-13.0zM580.95 1462.1h13.0V1860.5h-13.0zM609.98 1739.9h13.0V1860.5h-13.0zM639.02 1513.7h13.0V1860.5h-13.0zM668.06 1604.8h13.0V1860.5h-13.0zM697.10 1783.5h13.0V1860.5h-13.0zM726.14 1457.8h13.0V1860.5h-13.0zM755.17 1644.3h13.0V1860.5h-13.0zM784.21 1727.9h13.0V1860.5h-13.0zM813.25 1531.4h13.0V1860.5h-13.0zM842.29 1614.0h13.0V1860.5h-13.0zM900.36 1786.3h13.0V1860.5h-13.0zM929.40 1838.6h13.0V1860.5h-13.0zM958.44 1745.2h13.0V1860.5h-13.0zM987.48 1713.7h13.0V1860.5h-13.0zM1016.52 1662.9h13.0V1860.5h-13.0zM1045.55 1802.8h13.0V1860.5h-13.0zM1074.59 1795.0h13.0V1860.5h-13.0zM1103.63 1622.6h13.0V1860.5h-13.0zM1161.71 1822.1h13.0V1860.5h-13.0zM1219.78 1836.1h13.0V1860.5h-13.0zM1248.82 1688.9h13.0V1860.5h-13.0zM1364.97 1770.5h13.0V1860.5h-13.0z" fill="#00BFC4"/>
<path d="M93.80 1727.4V1717.4M122.84 1660.3V1643.3M138.88 1566.4V1554.5M151.88 1495.1V1482.4M180.91 1648.5V1637.3M196.95 1743.1V1721.9M209.95 1658.8V1641.1M225.99 1480.1V1468.6M238.99 1412.5V1395.8M268.03 1654.0V1641.3M297.07 1682.6V1675.4M313.10 1511.9V1494.6M326.10 1483.3V1469.6M355.14 1687.8V1671.6M371.18 1758.9V1739.4M384.18 1683.3V1675.6M400.22 1569.7V1552.7M413.22 1489.1V1486.9M458.29 1621.7V1605.3M487.33 1508.1V1499.4M529.37 1678.6V1673.4M545.41 1750.4V1729.7M558.41 1618.2V1616.0M574.45 1545.9V1534.7M587.45 1463.3V1442.8M616.48 1741.1V1734.7M632.52 1622.2V1601.5M645.52 1514.9V1494.6M661.56 1719.6V1705.9M674.56 1606.0V1599.3M703.60 1784.7V1778.7M719.64 1555.4V1536.7M732.64 1459.0V1438.6M748.67 1731.1V1720.2M761.67 1645.5V1639.8M790.71 1729.1V1726.9M806.75 1592.0V1571.0M819.75 1532.6V1511.9M835.79 1695.3V1676.9M848.79 1615.2V1604.0M906.86 1787.5V1769.5M935.90 1839.8V1825.8M964.94 1746.4V1738.7M993.98 1714.9V1700.7M1023.02 1664.1V1647.9M1052.05 1804.0V1794.5M1081.09 1796.2V1776.8M1097.13 1683.1V1662.4M1110.13 1623.8V1603.3M1168.21 1823.3V1806.1M1226.28 1837.3V1823.3M1242.32 1707.4V1692.2M1255.32 1690.1V1669.1M1358.47 1766.2V1745.7M1371.47 1771.7V1751.5M1474.62 1591.7V1571.8M1503.66 1615.5V1594.5" stroke="#0a0a0a" stroke-width="2.4" fill="none"/>
<path d="M92.00 1718.0h3.6M121.04 1643.9h3.6M137.08 1555.1h3.6M150.08 1483.0h3.6M179.11 1637.9h3.6M195.15 1722.5h3.6M208.15 1641.7h3.6M224.19 1469.2h3.6M237.19 1396.4h3.6M266.23 1641.9h3.6M295.27 1676.0h3.6M311.30 1495.2h3.6M324.30 1470.2h3.6M353.34 1672.2h3.6M369.38 1740.0h3.6M382.38 1676.2h3.6M398.42 1553.3h3.6M411.42 1487.5h3.6M456.49 1605.9h3.6M485.53 1500.0h3.6M527.57 1674.0h3.6M543.61 1730.3h3.6M556.61 1616.6h3.6M572.65 1535.3h3.6M585.65 1443.4h3.6M614.68 1735.3h3.6M630.72 1602.1h3.6M643.72 1495.2h3.6M659.76 1706.5h3.6M672.76 1599.9h3.6M701.80 1779.3h3.6M717.84 1537.3h3.6M730.84 1439.2h3.6M746.87 1720.8h3.6M759.87 1640.4h3.6M788.91 1727.5h3.6M804.95 1571.6h3.6M817.95 1512.5h3.6M833.99 1677.5h3.6M846.99 1604.6h3.6M905.06 1770.1h3.6M934.10 1826.4h3.6M963.14 1739.3h3.6M992.18 1701.3h3.6M1021.22 1648.5h3.6M1050.25 1795.1h3.6M1079.29 1777.4h3.6M1095.33 1663.0h3.6M1108.33 1603.9h3.6M1166.41 1806.7h3.6M1224.48 1823.9h3.6M1240.52 1692.8h3.6M1253.52 1669.7h3.6M1356.67 1746.3h3.6M1369.67 1752.1h3.6M1472.82 1572.4h3.6M1501.86 1595.1h3.6" stroke="#0a0a0a" stroke-width="1.3" fill="none"/>
<path d="M79.30 1859.6h3M108.34 1859.6h3M166.41 1859.6h3M253.53 1859.6h3M282.57 1859.6h3M340.64 1859.6h3M427.76 1859.6h3M440.76 1859.6h3M469.79 1859.6h3M498.83 1859.6h3M514.87 1859.6h3M601.98 1859.6h3M689.10 1859.6h3M776.21 1859.6h3M863.33 1859.6h3M876.33 1859.6h3M892.36 1859.6h3M921.40 1859.6h3M950.44 1859.6h3M979.48 1859.6h3M1008.52 1859.6h3M1037.55 1859.6h3M1066.59 1859.6h3M1124.67 1859.6h3M1137.67 1859.6h3M1153.71 1859.6h3M1182.74 1859.6h3M1195.74 1859.6h3M1211.78 1859.6h3M1269.86 1859.6h3M1282.86 1859.6h3M1298.90 1859.6h3M1311.90 1859.6h3M1327.93 1859.6h3M1340.93 1859.6h3M1386.01 1859.6h3M1399.01 1859.6h3M1415.05 1859.6h3M1428.05 1859.6h3M1444.09 1859.6h3M1457.09 1859.6h3M1486.12 1859.6h3M1515.16 1859.6h3M1531.20 1859.6h3M1544.20 1859.6h3M1560.24 1859.6h3M1573.24 1859.6h3M1589.28 1859.6h3M1602.28 1859.6h3M1618.31 1859.6h3M1631.31 1859.6h3" stroke="#111" stroke-width="1.8" fill="none"/>
<rect x="70.80" y="1860.5" width="1570.59" height="71.3" fill="#efefef"/>
<rect x="72.40" y="1860.5" width="27.85" height="23.5" fill="#e8e8e8"/>
<rect x="72.60" y="1885.9" width="27.95" height="21.4" fill="#f8f8f8"/>
<rect x="72.60" y="1909.1" width="27.45" height="21.7" fill="#ffffff"/>
<rect x="101.45" y="1860.5" width="27.85" height="23.5" fill="#c8c8c8"/>
<rect x="101.15" y="1885.9" width="28.45" height="21.4" fill="#f8f8f8"/>
<rect x="101.65" y="1909.1" width="27.45" height="21.7" fill="#ffffff"/>
<rect x="130.50" y="1860.5" width="27.85" height="23.5" fill="#9a9a9a"/>
<rect x="130.20" y="1885.9" width="27.95" height="21.4" fill="#f8f8f8"/>
<rect x="130.70" y="1909.1" width="27.45" height="21.7" fill="#ffffff"/>
<rect x="159.54" y="1860.5" width="27.85" height="23.5" fill="#e8e8e8"/>
<rect x="159.74" y="1885.9" width="27.95" height="21.4" fill="#d8d8d8"/>
<rect x="159.74" y="1909.1" width="27.45" height="21.7" fill="#ffffff"/>
<rect x="188.59" y="1860.5" width="27.85" height="23.5" fill="#c8c8c8"/>
<rect x="188.29" y="1885.9" width="28.45" height="21.4" fill="#d8d8d8"/>
<rect x="188.79" y="1909.1" width="27.45" height="21.7" fill="#ffffff"/>
<rect x="217.64" y="1860.5" width="27.85" height="23.5" fill="#9a9a9a"/>
<rect x="217.34" y="1885.9" width="27.95" height="21.4" fill="#d8d8d8"/>
<rect x="217.84" y="1909.1" width="27.45" height="21.7" fill="#ffffff"/>
<rect x="246.69" y="1860.5" width="27.85" height="23.5" fill="#e8e8e8"/>
<rect x="246.89" y="1885.9" width="27.95" height="21.4" fill="#9a9a9a"/>
<rect x="246.89" y="1909.1" width="27.45" height="21.7" fill="#ffffff"/>
<rect x="275.74" y="1860.5" width="27.85" height="23.5" fill="#c8c8c8"/>
<rect x="275.44" y="1885.9" width="28.45" height="21.4" fill="#9a9a9a"/>
<rect x="275.94" y="1909.1" width="27.45" height="21.7" fill="#ffffff"/>
<rect x="304.78" y="1860.5" width="27.85" height="23.5" fill="#9a9a9a"/>
<rect x="304.48" y="1885.9" width="27.95" height="21.4" fill="#9a9a9a"/>
<rect x="304.98" y="1909.1" width="27.45" height="21.7" fill="#ffffff"/>
<rect x="333.83" y="1860.5" width="27.85" height="23.5" fill="#e8e8e8"/>
<rect x="334.03" y="1885.9" width="27.95" height="21.4" fill="#f8f8f8"/>
<rect x="334.03" y="1909.1" width="27.45" height="21.7" fill="#e6e6e6"/>
<rect x="362.88" y="1860.5" width="27.85" height="23.5" fill="#c8c8c8"/>
<rect x="362.58" y="1885.9" width="28.45" height="21.4" fill="#f8f8f8"/>
<rect x="363.08" y="1909.1" width="27.45" height="21.7" fill="#e6e6e6"/>
<rect x="391.93" y="1860.5" width="27.85" height="23.5" fill="#9a9a9a"/>
<rect x="391.63" y="1885.9" width="27.95" height="21.4" fill="#f8f8f8"/>
<rect x="392.13" y="1909.1" width="27.45" height="21.7" fill="#e6e6e6"/>
<rect x="420.98" y="1860.5" width="27.85" height="23.5" fill="#e8e8e8"/>
<rect x="421.18" y="1885.9" width="27.95" height="21.4" fill="#d8d8d8"/>
<rect x="421.18" y="1909.1" width="27.45" height="21.7" fill="#e6e6e6"/>
<rect x="450.02" y="1860.5" width="27.85" height="23.5" fill="#c8c8c8"/>
<rect x="449.72" y="1885.9" width="28.45" height="21.4" fill="#d8d8d8"/>
<rect x="450.22" y="1909.1" width="27.45" height="21.7" fill="#e6e6e6"/>
<rect x="479.07" y="1860.5" width="27.85" height="23.5" fill="#9a9a9a"/>
<rect x="478.77" y="1885.9" width="27.95" height="21.4" fill="#d8d8d8"/>
<rect x="479.27" y="1909.1" width="27.45" height="21.7" fill="#e6e6e6"/>
<rect x="508.12" y="1860.5" width="27.85" height="23.5" fill="#e8e8e8"/>
<rect x="508.32" y="1885.9" width="27.95" height="21.4" fill="#9a9a9a"/>
<rect x="508.32" y="1909.1" width="27.45" height="21.7" fill="#e6e6e6"/>
<rect x="537.17" y="1860.5" width="27.85" height="23.5" fill="#c8c8c8"/>
<rect x="536.87" y="1885.9" width="28.45" height="21.4" fill="#9a9a9a"/>
<rect x="537.37" y="1909.1" width="27.45" height="21.7" fill="#e6e6e6"/>
<rect x="566.22" y="1860.5" width="27.85" height="23.5" fill="#9a9a9a"/>
<rect x="565.92" y="1885.9" width="27.95" height="21.4" fill="#9a9a9a"/>
<rect x="566.42" y="1909.1" width="27.45" height="21.7" fill="#e6e6e6"/>
<rect x="595.26" y="1860.5" width="27.85" height="23.5" fill="#e8e8e8"/>
<rect x="595.46" y="1885.9" width="27.95" height="21.4" fill="#f8f8f8"/>
<rect x="595.46" y="1909.1" width="27.45" height="21.7" fill="#d4d4d4"/>
<rect x="624.31" y="1860.5" width="27.85" height="23.5" fill="#c8c8c8"/>
<rect x="624.01" y="1885.9" width="28.45" height="21.4" fill="#f8f8f8"/>
<rect x="624.51" y="1909.1" width="27.45" height="21.7" fill="#d4d4d4"/>
<rect x="653.36" y="1860.5" width="27.85" height="23.5" fill="#9a9a9a"/>
<rect x="653.06" y="1885.9" width="27.95" height="21.4" fill="#f8f8f8"/>
<rect x="653.56" y="1909.1" width="27.45" height="21.7" fill="#d4d4d4"/>
<rect x="682.41" y="1860.5" width="27.85" height="23.5" fill="#e8e8e8"/>
<rect x="682.61" y="1885.9" width="27.95" height="21.4" fill="#d8d8d8"/>
<rect x="682.61" y="1909.1" width="27.45" height="21.7" fill="#d4d4d4"/>
<rect x="711.46" y="1860.5" width="27.85" height="23.5" fill="#c8c8c8"/>
<rect x="711.16" y="1885.9" width="28.45" height="21.4" fill="#d8d8d8"/>
<rect x="711.66" y="1909.1" width="27.45" height="21.7" fill="#d4d4d4"/>
<rect x="740.50" y="1860.5" width="27.85" height="23.5" fill="#9a9a9a"/>
<rect x="740.20" y="1885.9" width="27.95" height="21.4" fill="#d8d8d8"/>
<rect x="740.70" y="1909.1" width="27.45" height="21.7" fill="#d4d4d4"/>
<rect x="769.55" y="1860.5" width="27.85" height="23.5" fill="#e8e8e8"/>
<rect x="769.75" y="1885.9" width="27.95" height="21.4" fill="#9a9a9a"/>
<rect x="769.75" y="1909.1" width="27.45" height="21.7" fill="#d4d4d4"/>
<rect x="798.60" y="1860.5" width="27.85" height="23.5" fill="#c8c8c8"/>
<rect x="798.30" y="1885.9" width="28.45" height="21.4" fill="#9a9a9a"/>
<rect x="798.80" y="1909.1" width="27.45" height="21.7" fill="#d4d4d4"/>
<rect x="827.65" y="1860.5" width="27.85" height="23.5" fill="#9a9a9a"/>
<rect x="827.35" y="1885.9" width="27.95" height="21.4" fill="#9a9a9a"/>
<rect x="827.85" y="1909.1" width="27.45" height="21.7" fill="#d4d4d4"/>
<rect x="856.70" y="1860.5" width="27.85" height="23.5" fill="#e8e8e8"/>
<rect x="856.90" y="1885.9" width="27.95" height="21.4" fill="#f8f8f8"/>
<rect x="856.90" y="1909.1" width="27.45" height="21.7" fill="#c2c2c2"/>
<rect x="885.74" y="1860.5" width="27.85" height="23.5" fill="#c8c8c8"/>
<rect x="885.44" y="1885.9" width="28.45" height="21.4" fill="#f8f8f8"/>
<rect x="885.94" y="1909.1" width="27.45" height="21.7" fill="#c2c2c2"/>
<rect x="914.79" y="1860.5" width="27.85" height="23.5" fill="#9a9a9a"/>
<rect x="914.49" y="1885.9" width="27.95" height="21.4" fill="#f8f8f8"/>
<rect x="914.99" y="1909.1" width="27.45" height="21.7" fill="#c2c2c2"/>
<rect x="943.84" y="1860.5" width="27.85" height="23.5" fill="#e8e8e8"/>
<rect x="944.04" y="1885.9" width="27.95" height="21.4" fill="#d8d8d8"/>
<rect x="944.04" y="1909.1" width="27.45" height="21.7" fill="#c2c2c2"/>
<rect x="972.89" y="1860.5" width="27.85" height="23.5" fill="#c8c8c8"/>
<rect x="972.59" y="1885.9" width="28.45" height="21.4" fill="#d8d8d8"/>
<rect x="973.09" y="1909.1" width="27.45" height="21.7" fill="#c2c2c2"/>
<rect x="1001.94" y="1860.5" width="27.85" height="23.5" fill="#9a9a9a"/>
<rect x="1001.64" y="1885.9" width="27.95" height="21.4" fill="#d8d8d8"/>
<rect x="1002.14" y="1909.1" width="27.45" height="21.7" fill="#c2c2c2"/>
<rect x="1030.98" y="1860.5" width="27.85" height="23.5" fill="#e8e8e8"/>
<rect x="1031.18" y="1885.9" width="27.95" height="21.4" fill="#9a9a9a"/>
<rect x="1031.18" y="1909.1" width="27.45" height="21.7" fill="#c2c2c2"/>
<rect x="1060.03" y="1860.5" width="27.85" height="23.5" fill="#c8c8c8"/>
<rect x="1059.73" y="1885.9" width="28.45" height="21.4" fill="#9a9a9a"/>
<rect x="1060.23" y="1909.1" width="27.45" height="21.7" fill="#c2c2c2"/>
<rect x="1089.08" y="1860.5" width="27.85" height="23.5" fill="#9a9a9a"/>
<rect x="1088.78" y="1885.9" width="27.95" height="21.4" fill="#9a9a9a"/>
<rect x="1089.28" y="1909.1" width="27.45" height="21.7" fill="#c2c2c2"/>
<rect x="1118.13" y="1860.5" width="27.85" height="23.5" fill="#e8e8e8"/>
<rect x="1118.33" y="1885.9" width="27.95" height="21.4" fill="#f8f8f8"/>
<rect x="1118.33" y="1909.1" width="27.45" height="21.7" fill="#adadad"/>
<rect x="1147.18" y="1860.5" width="27.85" height="23.5" fill="#c8c8c8"/>
<rect x="1146.88" y="1885.9" width="28.45" height="21.4" fill="#f8f8f8"/>
<rect x="1147.38" y="1909.1" width="27.45" height="21.7" fill="#adadad"/>
<rect x="1176.22" y="1860.5" width="27.85" height="23.5" fill="#9a9a9a"/>
<rect x="1175.92" y="1885.9" width="27.95" height="21.4" fill="#f8f8f8"/>
<rect x="1176.42" y="1909.1" width="27.45" height="21.7" fill="#adadad"/>
<rect x="1205.27" y="1860.5" width="27.85" height="23.5" fill="#e8e8e8"/>
<rect x="1205.47" y="1885.9" width="27.95" height="21.4" fill="#d8d8d8"/>
<rect x="1205.47" y="1909.1" width="27.45" height="21.7" fill="#adadad"/>
<rect x="1234.32" y="1860.5" width="27.85" height="23.5" fill="#c8c8c8"/>
<rect x="1234.02" y="1885.9" width="28.45" height="21.4" fill="#d8d8d8"/>
<rect x="1234.52" y="1909.1" width="27.45" height="21.7" fill="#adadad"/>
<rect x="1263.37" y="1860.5" width="27.85" height="23.5" fill="#9a9a9a"/>
<rect x="1263.07" y="1885.9" width="27.95" height="21.4" fill="#d8d8d8"/>
<rect x="1263.57" y="1909.1" width="27.45" height="21.7" fill="#adadad"/>
<rect x="1292.42" y="1860.5" width="27.85" height="23.5" fill="#e8e8e8"/>
<rect x="1292.62" y="1885.9" width="27.95" height="21.4" fill="#9a9a9a"/>
<rect x="1292.62" y="1909.1" width="27.45" height="21.7" fill="#adadad"/>
<rect x="1321.46" y="1860.5" width="27.85" height="23.5" fill="#c8c8c8"/>
<rect x="1321.16" y="1885.9" width="28.45" height="21.4" fill="#9a9a9a"/>
<rect x="1321.66" y="1909.1" width="27.45" height="21.7" fill="#adadad"/>
<rect x="1350.51" y="1860.5" width="27.85" height="23.5" fill="#9a9a9a"/>
<rect x="1350.21" y="1885.9" width="27.95" height="21.4" fill="#9a9a9a"/>
<rect x="1350.71" y="1909.1" width="27.45" height="21.7" fill="#adadad"/>
<rect x="1379.56" y="1860.5" width="27.85" height="23.5" fill="#e8e8e8"/>
<rect x="1379.76" y="1885.9" width="27.95" height="21.4" fill="#f8f8f8"/>
<rect x="1379.76" y="1909.1" width="27.45" height="21.7" fill="#999999"/>
<rect x="1408.61" y="1860.5" width="27.85" height="23.5" fill="#c8c8c8"/>
<rect x="1408.31" y="1885.9" width="28.45" height="21.4" fill="#f8f8f8"/>
<rect x="1408.81" y="1909.1" width="27.45" height="21.7" fill="#999999"/>
<rect x="1437.66" y="1860.5" width="27.85" height="23.5" fill="#9a9a9a"/>
<rect x="1437.36" y="1885.9" width="27.95" height="21.4" fill="#f8f8f8"/>
<rect x="1437.86" y="1909.1" width="27.45" height="21.7" fill="#999999"/>
<rect x="1466.70" y="1860.5" width="27.85" height="23.5" fill="#e8e8e8"/>
<rect x="1466.90" y="1885.9" width="27.95" height="21.4" fill="#d8d8d8"/>
<rect x="1466.90" y="1909.1" width="27.45" height="21.7" fill="#999999"/>
<rect x="1495.75" y="1860.5" width="27.85" height="23.5" fill="#c8c8c8"/>
<rect x="1495.45" y="1885.9" width="28.45" height="21.4" fill="#d8d8d8"/>
<rect x="1495.95" y="1909.1" width="27.45" height="21.7" fill="#999999"/>
<rect x="1524.80" y="1860.5" width="27.85" height="23.5" fill="#9a9a9a"/>
<rect x="1524.50" y="1885.9" width="27.95" height="21.4" fill="#d8d8d8"/>
<rect x="1525.00" y="1909.1" width="27.45" height="21.7" fill="#999999"/>
<rect x="1553.85" y="1860.5" width="27.85" height="23.5" fill="#e8e8e8"/>
<rect x="1554.05" y="1885.9" width="27.95" height="21.4" fill="#9a9a9a"/>
<rect x="1554.05" y="1909.1" width="27.45" height="21.7" fill="#999999"/>
<rect x="1582.90" y="1860.5" width="27.85" height="23.5" fill="#c8c8c8"/>
<rect x="1582.60" y="1885.9" width="28.45" height="21.4" fill="#9a9a9a"/>
<rect x="1583.10" y="1909.1" width="27.45" height="21.7" fill="#999999"/>
<rect x="1611.94" y="1860.5" width="27.85" height="23.5" fill="#9a9a9a"/>
<rect x="1611.64" y="1885.9" width="27.95" height="21.4" fill="#9a9a9a"/>
<rect x="1612.14" y="1909.1" width="27.45" height="21.7" fill="#999999"/>
<text x="86.9" y="1878.4" text-anchor="middle" font-family="DejaVu Sans, Verdana, sans-serif" font-weight="bold" font-size="14.5" fill="#000" stroke="#000" stroke-width="0.2">T1</text>
<text x="116.0" y="1877.5" text-anchor="middle" font-family="DejaVu Sans, Verdana, sans-serif" font-weight="bold" font-size="14.5" fill="#000" stroke="#000" stroke-width="0.2">T2</text>
<text x="145.0" y="1877.1" text-anchor="middle" font-family="DejaVu Sans, Verdana, sans-serif" font-weight="bold" font-size="14.5" fill="#000" stroke="#000" stroke-width="0.2">T3</text>
<text x="174.1" y="1879.0" text-anchor="middle" font-family="DejaVu Sans, Verdana, sans-serif" font-weight="bold" font-size="14.5" fill="#000" stroke="#000" stroke-width="0.2">T1</text>
<text x="203.1" y="1878.0" text-anchor="middle" font-family="DejaVu Sans, Verdana, sans-serif" font-weight="bold" font-size="14.5" fill="#000" stroke="#000" stroke-width="0.2">T2</text>
<text x="232.2" y="1877.5" text-anchor="middle" font-family="DejaVu Sans, Verdana, sans-serif" font-weight="bold" font-size="14.5" fill="#000" stroke="#000" stroke-width="0.2">T3</text>
<text x="261.2" y="1878.4" text-anchor="middle" font-family="DejaVu Sans, Verdana, sans-serif" font-weight="bold" font-size="14.5" fill="#000" stroke="#000" stroke-width="0.2">T1</text>
<text x="290.3" y="1877.5" text-anchor="middle" font-family="DejaVu Sans, Verdana, sans-serif" font-weight="bold" font-size="14.5" fill="#000" stroke="#000" stroke-width="0.2">T2</text>
<text x="319.3" y="1877.1" text-anchor="middle" font-family="DejaVu Sans, Verdana, sans-serif" font-weight="bold" font-size="14.5" fill="#000" stroke="#000" stroke-width="0.2">T3</text>
<text x="348.4" y="1878.4" text-anchor="middle" font-family="DejaVu Sans, Verdana, sans-serif" font-weight="bold" font-size="14.5" fill="#000" stroke="#000" stroke-width="0.2">T1</text>
<text x="377.4" y="1877.5" text-anchor="middle" font-family="DejaVu Sans, Verdana, sans-serif" font-weight="bold" font-size="14.5" fill="#000" stroke="#000" stroke-width="0.2">T2</text>
<text x="406.5" y="1877.1" text-anchor="middle" font-family="DejaVu Sans, Verdana, sans-serif" font-weight="bold" font-size="14.5" fill="#000" stroke="#000" stroke-width="0.2">T3</text>
<text x="435.5" y="1879.0" text-anchor="middle" font-family="DejaVu Sans, Verdana, sans-serif" font-weight="bold" font-size="14.5" fill="#000" stroke="#000" stroke-width="0.2">T1</text>
<text x="464.5" y="1878.0" text-anchor="middle" font-family="DejaVu Sans, Verdana, sans-serif" font-weight="bold" font-size="14.5" fill="#000" stroke="#000" stroke-width="0.2">T2</text>
<text x="493.6" y="1877.5" text-anchor="middle" font-family="DejaVu Sans, Verdana, sans-serif" font-weight="bold" font-size="14.5" fill="#000" stroke="#000" stroke-width="0.2">T3</text>
<text x="522.6" y="1878.4" text-anchor="middle" font-family="DejaVu Sans, Verdana, sans-serif" font-weight="bold" font-size="14.5" fill="#000" stroke="#000" stroke-width="0.2">T1</text>
<text x="551.7" y="1877.5" text-anchor="middle" font-family="DejaVu Sans, Verdana, sans-serif" font-weight="bold" font-size="14.5" fill="#000" stroke="#000" stroke-width="0.2">T2</text>
<text x="580.7" y="1877.1" text-anchor="middle" font-family="DejaVu Sans, Verdana, sans-serif" font-weight="bold" font-size="14.5" fill="#000" stroke="#000" stroke-width="0.2">T3</text>
<text x="609.8" y="1878.4" text-anchor="middle" font-family="DejaVu Sans, Verdana, sans-serif" font-weight="bold" font-size="14.5" fill="#000" stroke="#000" stroke-width="0.2">T1</text>
<text x="638.8" y="1877.5" text-anchor="middle" font-family="DejaVu Sans, Verdana, sans-serif" font-weight="bold" font-size="14.5" fill="#000" stroke="#000" stroke-width="0.2">T2</text>
<text x="667.9" y="1877.1" text-anchor="middle" font-family="DejaVu Sans, Verdana, sans-serif" font-weight="bold" font-size="14.5" fill="#000" stroke="#000" stroke-width="0.2">T3</text>
<text x="696.9" y="1879.0" text-anchor="middle" font-family="DejaVu Sans, Verdana, sans-serif" font-weight="bold" font-size="14.5" fill="#000" stroke="#000" stroke-width="0.2">T1</text>
<text x="726.0" y="1878.0" text-anchor="middle" font-family="DejaVu Sans, Verdana, sans-serif" font-weight="bold" font-size="14.5" fill="#000" stroke="#000" stroke-width="0.2">T2</text>
<text x="755.0" y="1877.5" text-anchor="middle" font-family="DejaVu Sans, Verdana, sans-serif" font-weight="bold" font-size="14.5" fill="#000" stroke="#000" stroke-width="0.2">T3</text>
<text x="784.1" y="1878.4" text-anchor="middle" font-family="DejaVu Sans, Verdana, sans-serif" font-weight="bold" font-size="14.5" fill="#000" stroke="#000" stroke-width="0.2">T1</text>
<text x="813.1" y="1877.5" text-anchor="middle" font-family="DejaVu Sans, Verdana, sans-serif" font-weight="bold" font-size="14.5" fill="#000" stroke="#000" stroke-width="0.2">T2</text>
<text x="842.2" y="1877.1" text-anchor="middle" font-family="DejaVu Sans, Verdana, sans-serif" font-weight="bold" font-size="14.5" fill="#000" stroke="#000" stroke-width="0.2">T3</text>
<text x="871.2" y="1878.4" text-anchor="middle" font-family="DejaVu Sans, Verdana, sans-serif" font-weight="bold" font-size="14.5" fill="#000" stroke="#000" stroke-width="0.2">T1</text>
<text x="900.3" y="1877.5" text-anchor="middle" font-family="DejaVu Sans, Verdana, sans-serif" font-weight="bold" font-size="14.5" fill="#000" stroke="#000" stroke-width="0.2">T2</text>
<text x="929.3" y="1877.1" text-anchor="middle" font-family="DejaVu Sans, Verdana, sans-serif" font-weight="bold" font-size="14.5" fill="#000" stroke="#000" stroke-width="0.2">T3</text>
<text x="958.4" y="1879.0" text-anchor="middle" font-family="DejaVu Sans, Verdana, sans-serif" font-weight="bold" font-size="14.5" fill="#000" stroke="#000" stroke-width="0.2">T1</text>
<text x="987.4" y="1878.0" text-anchor="middle" font-family="DejaVu Sans, Verdana, sans-serif" font-weight="bold" font-size="14.5" fill="#000" stroke="#000" stroke-width="0.2">T2</text>
<text x="1016.5" y="1877.5" text-anchor="middle" font-family="DejaVu Sans, Verdana, sans-serif" font-weight="bold" font-size="14.5" fill="#000" stroke="#000" stroke-width="0.2">T3</text>
<text x="1045.5" y="1878.4" text-anchor="middle" font-family="DejaVu Sans, Verdana, sans-serif" font-weight="bold" font-size="14.5" fill="#000" stroke="#000" stroke-width="0.2">T1</text>
<text x="1074.6" y="1877.5" text-anchor="middle" font-family="DejaVu Sans, Verdana, sans-serif" font-weight="bold" font-size="14.5" fill="#000" stroke="#000" stroke-width="0.2">T2</text>
<text x="1103.6" y="1877.1" text-anchor="middle" font-family="DejaVu Sans, Verdana, sans-serif" font-weight="bold" font-size="14.5" fill="#000" stroke="#000" stroke-width="0.2">T3</text>
<text x="1132.7" y="1878.4" text-anchor="middle" font-family="DejaVu Sans, Verdana, sans-serif" font-weight="bold" font-size="14.5" fill="#000" stroke="#000" stroke-width="0.2">T1</text>
<text x="1161.7" y="1877.5" text-anchor="middle" font-family="DejaVu Sans, Verdana, sans-serif" font-weight="bold" font-size="14.5" fill="#000" stroke="#000" stroke-width="0.2">T2</text>
<text x="1190.7" y="1877.1" text-anchor="middle" font-family="DejaVu Sans, Verdana, sans-serif" font-weight="bold" font-size="14.5" fill="#000" stroke="#000" stroke-width="0.2">T3</text>
<text x="1219.8" y="1879.0" text-anchor="middle" font-family="DejaVu Sans, Verdana, sans-serif" font-weight="bold" font-size="14.5" fill="#000" stroke="#000" stroke-width="0.2">T1</text>
<text x="1248.8" y="1878.0" text-anchor="middle" font-family="DejaVu Sans, Verdana, sans-serif" font-weight="bold" font-size="14.5" fill="#000" stroke="#000" stroke-width="0.2">T2</text>
<text x="1277.9" y="1877.5" text-anchor="middle" font-family="DejaVu Sans, Verdana, sans-serif" font-weight="bold" font-size="14.5" fill="#000" stroke="#000" stroke-width="0.2">T3</text>
<text x="1306.9" y="1878.4" text-anchor="middle" font-family="DejaVu Sans, Verdana, sans-serif" font-weight="bold" font-size="14.5" fill="#000" stroke="#000" stroke-width="0.2">T1</text>
<text x="1336.0" y="1877.5" text-anchor="middle" font-family="DejaVu Sans, Verdana, sans-serif" font-weight="bold" font-size="14.5" fill="#000" stroke="#000" stroke-width="0.2">T2</text>
<text x="1365.0" y="1877.1" text-anchor="middle" font-family="DejaVu Sans, Verdana, sans-serif" font-weight="bold" font-size="14.5" fill="#000" stroke="#000" stroke-width="0.2">T3</text>
<text x="1394.1" y="1878.4" text-anchor="middle" font-family="DejaVu Sans, Verdana, sans-serif" font-weight="bold" font-size="14.5" fill="#000" stroke="#000" stroke-width="0.2">T1</text>
<text x="1423.1" y="1877.5" text-anchor="middle" font-family="DejaVu Sans, Verdana, sans-serif" font-weight="bold" font-size="14.5" fill="#000" stroke="#000" stroke-width="0.2">T2</text>
<text x="1452.2" y="1877.1" text-anchor="middle" font-family="DejaVu Sans, Verdana, sans-serif" font-weight="bold" font-size="14.5" fill="#000" stroke="#000" stroke-width="0.2">T3</text>
<text x="1481.2" y="1879.0" text-anchor="middle" font-family="DejaVu Sans, Verdana, sans-serif" font-weight="bold" font-size="14.5" fill="#000" stroke="#000" stroke-width="0.2">T1</text>
<text x="1510.3" y="1878.0" text-anchor="middle" font-family="DejaVu Sans, Verdana, sans-serif" font-weight="bold" font-size="14.5" fill="#000" stroke="#000" stroke-width="0.2">T2</text>
<text x="1539.3" y="1877.5" text-anchor="middle" font-family="DejaVu Sans, Verdana, sans-serif" font-weight="bold" font-size="14.5" fill="#000" stroke="#000" stroke-width="0.2">T3</text>
<text x="1568.4" y="1878.4" text-anchor="middle" font-family="DejaVu Sans, Verdana, sans-serif" font-weight="bold" font-size="14.5" fill="#000" stroke="#000" stroke-width="0.2">T1</text>
<text x="1597.4" y="1877.5" text-anchor="middle" font-family="DejaVu Sans, Verdana, sans-serif" font-weight="bold" font-size="14.5" fill="#000" stroke="#000" stroke-width="0.2">T2</text>
<text x="1626.5" y="1877.1" text-anchor="middle" font-family="DejaVu Sans, Verdana, sans-serif" font-weight="bold" font-size="14.5" fill="#000" stroke="#000" stroke-width="0.2">T3</text>
<text x="118.5" y="1901.2" text-anchor="middle" font-family="Liberation Sans, Arial, Helvetica, sans-serif" font-weight="bold" font-size="15.5" fill="#000" stroke="#000" stroke-width="0.25">BRAIN</text>
<text x="204.1" y="1901.2" text-anchor="middle" font-family="Liberation Sans, Arial, Helvetica, sans-serif" font-weight="bold" font-size="15.5" fill="#000" stroke="#000" stroke-width="0.25">LUNG</text>
<text x="288.0" y="1901.2" text-anchor="middle" font-family="Liberation Sans, Arial, Helvetica, sans-serif" font-weight="bold" font-size="15.5" fill="#000" stroke="#000" stroke-width="0.25">ILEUM</text>
<text x="204.0" y="1928.6" text-anchor="middle" font-family="Liberation Sans, Arial, Helvetica, sans-serif" font-weight="bold" font-size="19.7" fill="#000" stroke="#000" stroke-width="0.25">CHICKEN</text>
<text x="380.2" y="1901.2" text-anchor="middle" font-family="Liberation Sans, Arial, Helvetica, sans-serif" font-weight="bold" font-size="15.5" fill="#000" stroke="#000" stroke-width="0.25">BRAIN</text>
<text x="465.5" y="1901.2" text-anchor="middle" font-family="Liberation Sans, Arial, Helvetica, sans-serif" font-weight="bold" font-size="15.5" fill="#000" stroke="#000" stroke-width="0.25">LUNG</text>
<text x="549.5" y="1901.2" text-anchor="middle" font-family="Liberation Sans, Arial, Helvetica, sans-serif" font-weight="bold" font-size="15.5" fill="#000" stroke="#000" stroke-width="0.25">ILEUM</text>
<text x="461.4" y="1928.6" text-anchor="middle" font-family="Liberation Sans, Arial, Helvetica, sans-serif" font-weight="bold" font-size="19.7" fill="#000" stroke="#000" stroke-width="0.25">TURKEY</text>
<text x="640.0" y="1901.2" text-anchor="middle" font-family="Liberation Sans, Arial, Helvetica, sans-serif" font-weight="bold" font-size="15.5" fill="#000" stroke="#000" stroke-width="0.25">BRAIN</text>
<text x="725.5" y="1901.2" text-anchor="middle" font-family="Liberation Sans, Arial, Helvetica, sans-serif" font-weight="bold" font-size="15.5" fill="#000" stroke="#000" stroke-width="0.25">LUNG</text>
<text x="809.9" y="1901.2" text-anchor="middle" font-family="Liberation Sans, Arial, Helvetica, sans-serif" font-weight="bold" font-size="15.5" fill="#000" stroke="#000" stroke-width="0.25">ILEUM</text>
<text x="714.2" y="1928.6" text-anchor="middle" font-family="Liberation Sans, Arial, Helvetica, sans-serif" font-weight="bold" font-size="19.7" fill="#000" stroke="#000" stroke-width="0.25">DUCK</text>
<text x="901.5" y="1901.2" text-anchor="middle" font-family="Liberation Sans, Arial, Helvetica, sans-serif" font-weight="bold" font-size="15.5" fill="#000" stroke="#000" stroke-width="0.25">BRAIN</text>
<text x="986.7" y="1901.2" text-anchor="middle" font-family="Liberation Sans, Arial, Helvetica, sans-serif" font-weight="bold" font-size="15.5" fill="#000" stroke="#000" stroke-width="0.25">LUNG</text>
<text x="1070.9" y="1901.2" text-anchor="middle" font-family="Liberation Sans, Arial, Helvetica, sans-serif" font-weight="bold" font-size="15.5" fill="#000" stroke="#000" stroke-width="0.25">ILEUM</text>
<text x="977.3" y="1928.6" text-anchor="middle" font-family="Liberation Sans, Arial, Helvetica, sans-serif" font-weight="bold" font-size="19.7" fill="#000" stroke="#000" stroke-width="0.25">CROW</text>
<text x="1162.9" y="1901.2" text-anchor="middle" font-family="Liberation Sans, Arial, Helvetica, sans-serif" font-weight="bold" font-size="15.5" fill="#000" stroke="#000" stroke-width="0.25">BRAIN</text>
<text x="1248.1" y="1901.2" text-anchor="middle" font-family="Liberation Sans, Arial, Helvetica, sans-serif" font-weight="bold" font-size="15.5" fill="#000" stroke="#000" stroke-width="0.25">LUNG</text>
<text x="1332.5" y="1901.2" text-anchor="middle" font-family="Liberation Sans, Arial, Helvetica, sans-serif" font-weight="bold" font-size="15.5" fill="#000" stroke="#000" stroke-width="0.25">ILEUM</text>
<text x="1243.7" y="1928.6" text-anchor="middle" font-family="Liberation Sans, Arial, Helvetica, sans-serif" font-weight="bold" font-size="19.7" fill="#000" stroke="#000" stroke-width="0.25">GOOSE</text>
<text x="1423.8" y="1901.2" text-anchor="middle" font-family="Liberation Sans, Arial, Helvetica, sans-serif" font-weight="bold" font-size="15.5" fill="#000" stroke="#000" stroke-width="0.25">BRAIN</text>
<text x="1508.8" y="1901.2" text-anchor="middle" font-family="Liberation Sans, Arial, Helvetica, sans-serif" font-weight="bold" font-size="15.5" fill="#000" stroke="#000" stroke-width="0.25">LUNG</text>
<text x="1593.1" y="1901.2" text-anchor="middle" font-family="Liberation Sans, Arial, Helvetica, sans-serif" font-weight="bold" font-size="15.5" fill="#000" stroke="#000" stroke-width="0.25">ILEUM</text>
<text x="1506.7" y="1928.6" text-anchor="middle" font-family="Liberation Sans, Arial, Helvetica, sans-serif" font-weight="bold" font-size="19.7" fill="#000" stroke="#000" stroke-width="0.25">PIGEON</text>
<text x="53.6" y="1868.6" text-anchor="end" font-family="Liberation Sans, Arial, Helvetica, sans-serif" font-size="17" fill="#3a3a3a">10</text>
<text x="53.9" y="1859.9" font-family="Liberation Sans, Arial, Helvetica, sans-serif" font-size="12" fill="#3a3a3a">0</text>
<text x="53.6" y="1741.4" text-anchor="end" font-family="Liberation Sans, Arial, Helvetica, sans-serif" font-size="17" fill="#3a3a3a">10</text>
<text x="53.9" y="1732.7" font-family="Liberation Sans, Arial, Helvetica, sans-serif" font-size="12" fill="#3a3a3a">2</text>
<text x="53.6" y="1614.2" text-anchor="end" font-family="Liberation Sans, Arial, Helvetica, sans-serif" font-size="17" fill="#3a3a3a">10</text>
<text x="53.9" y="1605.5" font-family="Liberation Sans, Arial, Helvetica, sans-serif" font-size="12" fill="#3a3a3a">4</text>
<text x="53.6" y="1487.0" text-anchor="end" font-family="Liberation Sans, Arial, Helvetica, sans-serif" font-size="17" fill="#3a3a3a">10</text>
<text x="53.9" y="1478.3" font-family="Liberation Sans, Arial, Helvetica, sans-serif" font-size="12" fill="#3a3a3a">6</text>
<text x="53.6" y="1359.8" text-anchor="end" font-family="Liberation Sans, Arial, Helvetica, sans-serif" font-size="17" fill="#3a3a3a">10</text>
<text x="53.9" y="1351.1" font-family="Liberation Sans, Arial, Helvetica, sans-serif" font-size="12" fill="#3a3a3a">8</text>
<text transform="translate(29.4 1827.3) rotate(-90.1)" font-family="DejaVu Sans, Verdana, sans-serif" font-size="20.5" textLength="395.3" lengthAdjust="spacing" fill="#000">Average count/ Normalised viral RNA</text>
<text transform="translate(28.7 1428.2) rotate(-90.1)" font-family="DejaVu Sans, Verdana, sans-serif" font-size="22" textLength="72.8" lengthAdjust="spacingAndGlyphs" fill="#000">(ΔΔCt)</text>
<text x="103.4" y="1368.7" font-family="Liberation Sans, Arial, Helvetica, sans-serif" font-weight="bold" font-size="39.2" fill="#000">HPAI 2.3</text>
</g>
<text x="1480.1" y="93.6" font-family="Liberation Sans, Arial, Helvetica, sans-serif" font-size="19.6" textLength="71.8" lengthAdjust="spacingAndGlyphs" fill="#000">Method</text>
<rect x="1481.1" y="109.9" width="31" height="30.7" fill="#F8766D"/>
<rect x="1481.1" y="144.0" width="31" height="30.7" fill="#00BFC4"/>
<text x="1524.2" y="132.2" font-family="Liberation Sans, Arial, Helvetica, sans-serif" font-size="17.3" textLength="48.4" lengthAdjust="spacingAndGlyphs" fill="#000">qPCR</text>
<text x="1524.2" y="165.9" font-family="Liberation Sans, Arial, Helvetica, sans-serif" font-size="17.3" textLength="65.6" lengthAdjust="spacingAndGlyphs" fill="#000">RNAseq</text>
</svg>
</body></html>
